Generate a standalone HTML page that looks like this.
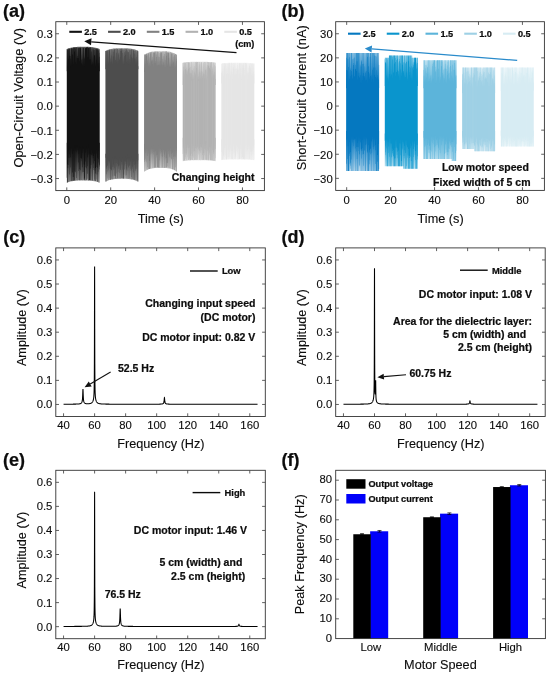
<!DOCTYPE html>
<html><head><meta charset="utf-8"><title>Figure</title>
<style>html,body{margin:0;padding:0;background:#fff}svg{display:block}text{white-space:pre}</style>
</head><body>
<svg width="550" height="677" viewBox="0 0 550 677" font-family="Liberation Sans, Arial, sans-serif" fill="#0d0d0d">
<defs><linearGradient id="ga0t" gradientUnits="userSpaceOnUse" x1="0" x2="0" y1="46.79" y2="67.30"><stop offset="0" stop-color="#121212" stop-opacity="0.6"/><stop offset="1" stop-color="#121212" stop-opacity="1"/></linearGradient><linearGradient id="ga0b" gradientUnits="userSpaceOnUse" x1="0" x2="0" y1="182.88" y2="146.69"><stop offset="0" stop-color="#121212" stop-opacity="0.4"/><stop offset="1" stop-color="#121212" stop-opacity="1"/></linearGradient></defs>
<path d="M66.78 71.30V48.97L68.15 48.47L69.52 48.05L70.90 47.71L72.27 47.44L73.64 47.22L75.01 47.07L76.39 46.95L77.76 46.87L79.13 46.83L80.50 46.80L81.87 46.79L83.25 46.79L84.62 46.79L85.99 46.80L87.36 46.83L88.74 46.87L90.11 46.95L91.48 47.07L92.85 47.22L94.23 47.44L95.60 47.71L96.97 48.05L98.34 48.47L99.72 48.97V71.30Z" fill="url(#ga0t)"/>
<path d="M66.78 142.69V182.88L68.15 182.32L69.52 181.86L70.90 181.48L72.27 181.18L73.64 180.94L75.01 180.77L76.39 180.64L77.76 180.56L79.13 180.50L80.50 180.48L81.87 180.47L83.25 180.47L84.62 180.47L85.99 180.48L87.36 180.50L88.74 180.56L90.11 180.64L91.48 180.77L92.85 180.94L94.23 181.18L95.60 181.48L96.97 181.86L98.34 182.32L99.72 182.88V142.69Z" fill="url(#ga0b)"/>
<path d="M66.78 49.14V49.14H67.00V49.37H67.22V49.38H67.44V49.87H67.66V68.24H67.88V50.29H68.10V48.62H68.32V49.22H68.54V48.40H68.76V58.63H68.97V48.61H69.19V48.94H69.41V55.63H69.63V49.09H69.85V48.90H70.07V55.99H70.29V58.77H70.51V48.73H70.73V68.12H70.95V48.64H71.17V47.80H71.39V47.94H71.61V48.19H71.83V65.74H72.05V48.74H72.27V47.75H72.49V54.42H72.71V48.17H72.93V48.21H73.15V64.09H73.37V47.82H73.59V47.31H73.81V47.26H74.03V47.69H74.24V51.60H74.46V47.29H74.68V47.79H74.90V47.45H75.12V48.42H75.34V47.06H75.56V62.36H75.78V48.10H76.00V47.29H76.22V64.22H76.44V47.69H76.66V47.33H76.88V57.69H77.10V56.05H77.32V47.19H77.54V58.27H77.76V47.83H77.98V58.22H78.20V48.01H78.42V48.22H78.64V47.06H78.86V48.03H79.08V47.62H79.29V61.35H79.51V48.08H79.73V47.24H79.95V47.42H80.17V47.47H80.39V48.13H80.61V46.83H80.83V47.96H81.05V59.63H81.27V63.68H81.49V47.20H81.71V63.26H81.93V58.68H82.15V47.57H82.37V65.25H82.59V66.37H82.81V47.43H83.03V47.76H83.25V47.83H83.47V66.77H83.69V47.50H83.91V47.42H84.13V47.26H84.35V57.44H84.56V58.81H84.78V66.84H85.00V47.92H85.22V48.12H85.44V48.13H85.66V46.88H85.88V48.16H86.10V48.05H86.32V47.30H86.54V47.00H86.76V47.05H86.98V47.26H87.20V47.08H87.42V46.85H87.64V47.53H87.86V57.33H88.08V47.59H88.30V48.07H88.52V47.37H88.74V47.95H88.96V48.11H89.18V47.25H89.40V47.56H89.62V59.58H89.83V47.46H90.05V47.68H90.27V47.35H90.49V47.02H90.71V59.33H90.93V65.52H91.15V51.53H91.37V48.27H91.59V64.45H91.81V48.32H92.03V65.87H92.25V47.21H92.47V48.40H92.69V62.29H92.91V63.51H93.13V49.61H93.35V47.70H93.57V67.46H93.79V48.37H94.01V50.07H94.23V55.38H94.45V47.89H94.67V55.18H94.89V47.75H95.10V67.08H95.32V67.66H95.54V49.09H95.76V48.53H95.98V59.77H96.20V49.18H96.42V48.65H96.64V48.49H96.86V49.14H97.08V63.76H97.30V48.74H97.52V48.86H97.74V49.52H97.96V48.76H98.18V49.83H98.40V67.60H98.62V50.45H98.84V63.11H99.06V52.70H99.28V49.91H99.50V56.77H99.72V164.82H99.50V169.55H99.28V166.40H99.06V182.52H98.84V162.56H98.62V159.30H98.40V151.35H98.18V171.82H97.96V181.47H97.74V182.04H97.52V157.66H97.30V167.63H97.08V174.48H96.86V150.03H96.64V166.99H96.42V179.41H96.20V153.81H95.98V173.60H95.76V181.08H95.54V167.94H95.32V181.06H95.10V170.55H94.89V160.92H94.67V153.78H94.45V179.85H94.23V180.98H94.01V155.92H93.79V163.47H93.57V170.01H93.35V168.12H93.13V158.32H92.91V180.44H92.69V155.38H92.47V180.61H92.25V153.35H92.03V149.45H91.81V180.41H91.59V155.26H91.37V154.75H91.15V165.10H90.93V154.27H90.71V168.55H90.49V180.37H90.27V180.28H90.05V180.35H89.83V179.91H89.62V179.90H89.40V180.25H89.18V153.75H88.96V180.44H88.74V180.46H88.52V154.76H88.30V144.82H88.08V148.92H87.86V173.78H87.64V157.36H87.42V178.71H87.20V166.20H86.98V180.35H86.76V168.14H86.54V146.30H86.32V179.86H86.10V149.82H85.88V161.41H85.66V152.76H85.44V167.35H85.22V180.38H85.00V180.28H84.78V179.75H84.56V180.23H84.35V178.58H84.13V164.38H83.91V148.92H83.69V179.78H83.47V172.05H83.25V147.11H83.03V180.29H82.81V172.31H82.59V167.30H82.37V145.87H82.15V152.99H81.93V160.81H81.71V158.70H81.49V180.06H81.27V158.36H81.05V180.13H80.83V170.34H80.61V157.94H80.39V146.92H80.17V179.82H79.95V180.06H79.73V169.22H79.51V146.12H79.29V180.49H79.08V154.09H78.86V149.71H78.64V170.94H78.42V162.47H78.20V179.97H77.98V150.44H77.76V149.96H77.54V147.12H77.32V180.42H77.10V144.73H76.88V180.11H76.66V178.09H76.44V151.77H76.22V144.88H76.00V150.67H75.78V180.44H75.56V145.11H75.34V172.17H75.12V171.55H74.90V180.72H74.68V144.81H74.46V180.59H74.24V180.24H74.03V180.80H73.81V180.82H73.59V180.51H73.37V150.45H73.15V176.99H72.93V153.66H72.71V180.82H72.49V180.81H72.27V172.44H72.05V180.95H71.83V148.31H71.61V148.70H71.39V180.84H71.17V181.11H70.95V167.40H70.73V181.05H70.51V146.93H70.29V157.17H70.07V157.90H69.85V181.44H69.63V174.57H69.41V149.18H69.19V154.33H68.97V157.85H68.76V182.00H68.54V164.97H68.32V151.23H68.10V168.10H67.88V164.38H67.66V182.39H67.44V182.58H67.22V182.37H67.00V177.78H66.78Z" fill="#121212" stroke="none"/>
<defs><linearGradient id="ga1t" gradientUnits="userSpaceOnUse" x1="0" x2="0" y1="48.24" y2="65.13"><stop offset="0" stop-color="#4d4d4d" stop-opacity="0.6"/><stop offset="1" stop-color="#4d4d4d" stop-opacity="1"/></linearGradient><linearGradient id="ga1b" gradientUnits="userSpaceOnUse" x1="0" x2="0" y1="181.91" y2="157.79"><stop offset="0" stop-color="#4d4d4d" stop-opacity="0.45"/><stop offset="1" stop-color="#4d4d4d" stop-opacity="1"/></linearGradient></defs>
<path d="M105.42 69.13V50.90L106.80 50.29L108.17 49.78L109.54 49.36L110.91 49.03L112.29 48.77L113.66 48.57L115.03 48.43L116.40 48.34L117.78 48.28L119.15 48.25L120.52 48.24L121.89 48.24L123.27 48.24L124.64 48.25L126.01 48.28L127.38 48.34L128.76 48.43L130.13 48.57L131.50 48.77L132.87 49.03L134.24 49.36L135.62 49.78L136.99 50.29L138.36 50.90V69.13Z" fill="url(#ga1t)"/>
<path d="M105.42 153.79V181.91L106.80 181.19L108.17 180.59L109.54 180.10L110.91 179.71L112.29 179.40L113.66 179.17L115.03 179.00L116.40 178.89L117.78 178.83L119.15 178.79L120.52 178.78L121.89 178.78L123.27 178.78L124.64 178.79L126.01 178.83L127.38 178.89L128.76 179.00L130.13 179.17L131.50 179.40L132.87 179.71L134.24 180.10L135.62 180.59L136.99 181.19L138.36 181.91V153.79Z" fill="url(#ga1b)"/>
<path d="M105.42 51.08V51.08H105.64V51.06H105.86V50.84H106.08V50.67H106.30V65.79H106.52V51.11H106.74V50.67H106.96V51.09H107.18V50.45H107.40V64.82H107.62V50.96H107.84V49.87H108.06V64.68H108.28V49.93H108.50V62.65H108.72V50.37H108.94V50.83H109.16V49.80H109.38V49.48H109.60V49.64H109.82V49.93H110.04V58.52H110.26V61.92H110.48V50.08H110.69V64.92H110.91V49.61H111.13V62.22H111.35V55.56H111.57V49.97H111.79V49.11H112.01V64.99H112.23V50.17H112.45V49.29H112.67V65.55H112.89V50.01H113.11V56.40H113.33V48.60H113.55V51.75H113.77V49.74H113.99V49.21H114.21V49.03H114.43V49.65H114.65V48.55H114.87V63.94H115.09V59.90H115.31V48.80H115.53V60.12H115.75V49.06H115.96V48.72H116.18V52.69H116.40V62.08H116.62V48.85H116.84V49.40H117.06V49.10H117.28V65.02H117.50V49.01H117.72V48.88H117.94V63.06H118.16V54.61H118.38V52.91H118.60V49.54H118.82V49.69H119.04V60.27H119.26V49.44H119.48V48.67H119.70V59.22H119.92V57.15H120.14V51.04H120.36V48.78H120.58V49.11H120.80V48.72H121.01V48.54H121.23V48.39H121.45V50.73H121.67V48.65H121.89V49.06H122.11V65.09H122.33V52.97H122.55V49.43H122.77V48.48H122.99V63.90H123.21V48.97H123.43V49.58H123.65V64.69H123.87V64.81H124.09V56.17H124.31V52.16H124.53V49.48H124.75V48.84H124.97V48.62H125.19V49.08H125.41V51.32H125.63V54.83H125.85V49.24H126.07V49.18H126.28V62.14H126.50V48.46H126.72V48.95H126.94V50.61H127.16V48.41H127.38V51.77H127.60V62.70H127.82V49.76H128.04V64.33H128.26V52.28H128.48V52.00H128.70V48.82H128.92V48.72H129.14V63.94H129.36V49.27H129.58V59.07H129.80V49.98H130.02V54.41H130.24V49.71H130.46V50.12H130.68V65.33H130.90V48.69H131.12V57.36H131.34V49.09H131.55V49.31H131.77V49.68H131.99V58.18H132.21V49.13H132.43V62.84H132.65V49.94H132.87V57.87H133.09V50.41H133.31V49.50H133.53V50.00H133.75V50.14H133.97V53.50H134.19V50.66H134.41V50.66H134.63V58.46H134.85V49.62H135.07V64.40H135.29V58.40H135.51V50.71H135.73V50.45H135.95V66.07H136.17V56.94H136.39V62.68H136.61V51.39H136.82V51.31H137.04V51.25H137.26V50.48H137.48V50.75H137.70V62.37H137.92V51.59H138.14V66.25H138.36V181.22H138.14V160.35H137.92V161.52H137.70V181.46H137.48V180.71H137.26V180.61H137.04V169.27H136.82V159.06H136.61V157.14H136.39V180.21H136.17V168.44H135.95V180.51H135.73V170.95H135.51V164.15H135.29V169.52H135.07V179.80H134.85V180.19H134.63V164.94H134.41V160.38H134.19V179.83H133.97V161.49H133.75V172.43H133.53V179.29H133.31V179.41H133.09V159.70H132.87V166.82H132.65V168.77H132.43V179.11H132.21V178.85H131.99V170.18H131.77V179.17H131.55V176.93H131.34V156.76H131.12V179.20H130.90V160.40H130.68V168.64H130.46V170.67H130.24V161.82H130.02V165.33H129.80V156.72H129.58V166.02H129.36V178.49H129.14V178.35H128.92V166.85H128.70V156.04H128.48V167.85H128.26V178.70H128.04V170.74H127.82V178.20H127.60V154.83H127.38V165.43H127.16V158.12H126.94V175.32H126.72V178.54H126.50V170.23H126.28V168.71H126.07V164.11H125.85V161.37H125.63V161.95H125.41V175.41H125.19V156.19H124.97V165.22H124.75V170.08H124.53V169.01H124.31V160.67H124.09V174.62H123.87V178.69H123.65V178.43H123.43V178.57H123.21V178.33H122.99V178.38H122.77V156.39H122.55V178.12H122.33V169.67H122.11V164.51H121.89V178.09H121.67V178.27H121.45V161.92H121.23V161.96H121.01V170.01H120.80V169.50H120.58V178.63H120.36V160.67H120.14V178.22H119.92V165.45H119.70V178.65H119.48V155.92H119.26V172.65H119.04V168.77H118.82V166.48H118.60V178.63H118.38V165.46H118.16V172.02H117.94V159.78H117.72V163.95H117.50V178.78H117.28V178.14H117.06V178.81H116.84V173.61H116.62V166.53H116.40V158.78H116.18V163.12H115.96V155.48H115.75V176.36H115.53V178.42H115.31V178.47H115.09V178.81H114.87V168.35H114.65V175.52H114.43V176.12H114.21V156.17H113.99V164.55H113.77V169.78H113.55V178.95H113.33V166.79H113.11V176.22H112.89V166.92H112.67V156.95H112.45V179.35H112.23V179.15H112.01V179.18H111.79V178.84H111.57V169.56H111.35V170.30H111.13V170.55H110.91V179.71H110.69V169.11H110.48V179.84H110.26V179.74H110.04V161.44H109.82V178.48H109.60V162.66H109.38V160.73H109.16V168.46H108.94V179.78H108.72V159.88H108.50V161.33H108.28V170.13H108.06V157.63H107.84V165.37H107.62V178.44H107.40V166.10H107.18V171.44H106.96V174.21H106.74V168.68H106.52V167.19H106.30V181.31H106.08V181.54H105.86V157.65H105.64V181.20H105.42Z" fill="#4d4d4d" stroke="none"/>
<defs><linearGradient id="ga2t" gradientUnits="userSpaceOnUse" x1="0" x2="0" y1="51.14" y2="68.03"><stop offset="0" stop-color="#818181" stop-opacity="0.45"/><stop offset="1" stop-color="#818181" stop-opacity="1"/></linearGradient><linearGradient id="ga2b" gradientUnits="userSpaceOnUse" x1="0" x2="0" y1="171.78" y2="147.65"><stop offset="0" stop-color="#818181" stop-opacity="0.35"/><stop offset="1" stop-color="#818181" stop-opacity="1"/></linearGradient></defs>
<path d="M144.07 72.03V54.76L145.44 53.92L146.82 53.23L148.19 52.66L149.56 52.21L150.93 51.86L152.30 51.59L153.68 51.40L155.05 51.27L156.42 51.19L157.79 51.15L159.17 51.14L160.54 51.14L161.91 51.14L163.28 51.15L164.66 51.19L166.03 51.27L167.40 51.40L168.77 51.59L170.15 51.86L171.52 52.21L172.89 52.66L174.26 53.23L175.64 53.92L177.01 54.76V72.03Z" fill="url(#ga2t)"/>
<path d="M144.07 143.65V171.78L145.44 170.89L146.82 170.15L148.19 169.55L149.56 169.06L150.93 168.69L152.30 168.40L153.68 168.20L155.05 168.06L156.42 167.98L157.79 167.94L159.17 167.92L160.54 167.92L161.91 167.92L163.28 167.94L164.66 167.98L166.03 168.06L167.40 168.20L168.77 168.40L170.15 168.69L171.52 169.06L172.89 169.55L174.26 170.15L175.64 170.89L177.01 171.78V143.65Z" fill="url(#ga2b)"/>
<path d="M144.07 70.82V70.82H144.29V54.59H144.51V68.89H144.73V54.41H144.95V54.76H145.17V55.05H145.39V63.65H145.61V54.37H145.83V54.68H146.05V56.03H146.27V53.73H146.49V54.04H146.71V53.95H146.93V54.50H147.14V62.71H147.36V54.08H147.58V60.24H147.80V55.14H148.02V53.07H148.24V53.88H148.46V66.01H148.68V52.92H148.90V65.68H149.12V63.22H149.34V57.60H149.56V66.92H149.78V52.59H150.00V52.33H150.22V53.39H150.44V66.00H150.66V52.82H150.88V51.89H151.10V61.50H151.32V52.62H151.54V60.31H151.76V52.00H151.98V64.32H152.20V60.57H152.41V52.16H152.63V57.09H152.85V59.76H153.07V52.41H153.29V67.98H153.51V52.54H153.73V52.21H153.95V63.16H154.17V52.71H154.39V52.42H154.61V51.38H154.83V51.89H155.05V51.65H155.27V61.37H155.49V51.54H155.71V62.96H155.93V52.61H156.15V65.56H156.37V54.39H156.59V57.06H156.81V51.44H157.03V51.52H157.25V52.09H157.47V66.05H157.68V65.06H157.90V51.74H158.12V56.72H158.34V52.27H158.56V65.15H158.78V65.00H159.00V65.81H159.22V64.44H159.44V56.97H159.66V52.88H159.88V60.81H160.10V52.35H160.32V65.84H160.54V53.27H160.76V52.02H160.98V52.56H161.20V52.26H161.42V52.39H161.64V64.85H161.86V51.94H162.08V59.32H162.30V67.69H162.52V51.60H162.73V65.05H162.95V61.55H163.17V51.43H163.39V65.13H163.61V62.79H163.83V56.06H164.05V53.88H164.27V66.90H164.49V65.13H164.71V51.81H164.93V67.20H165.15V51.39H165.37V60.10H165.59V67.29H165.81V51.41H166.03V51.30H166.25V52.70H166.47V51.34H166.69V55.76H166.91V66.26H167.13V64.21H167.35V52.80H167.57V52.37H167.79V52.52H168.00V53.26H168.22V52.50H168.44V52.49H168.66V52.73H168.88V57.94H169.10V66.18H169.32V66.28H169.54V53.04H169.76V67.27H169.98V52.22H170.20V67.24H170.42V67.02H170.64V66.23H170.86V52.18H171.08V53.20H171.30V64.55H171.52V53.33H171.74V53.48H171.96V67.86H172.18V63.51H172.40V53.54H172.62V53.35H172.84V60.37H173.06V56.59H173.27V53.61H173.49V62.43H173.71V61.57H173.93V69.53H174.15V53.49H174.37V68.45H174.59V55.32H174.81V54.94H175.03V69.96H175.25V54.01H175.47V53.95H175.69V69.60H175.91V66.98H176.13V54.48H176.35V60.83H176.57V55.01H176.79V58.75H177.01V171.60H176.79V171.46H176.57V150.97H176.35V148.02H176.13V147.21H175.91V167.14H175.69V170.61H175.47V146.73H175.25V156.83H175.03V170.08H174.81V156.51H174.59V146.91H174.37V170.12H174.15V170.02H173.93V149.36H173.71V159.05H173.49V169.03H173.27V156.92H173.06V169.11H172.84V169.45H172.62V152.28H172.40V169.18H172.18V152.91H171.96V159.10H171.74V153.96H171.52V159.66H171.30V158.87H171.08V147.84H170.86V145.98H170.64V157.69H170.42V168.12H170.20V151.15H169.98V157.30H169.76V149.35H169.54V156.61H169.32V168.04H169.10V167.74H168.88V147.54H168.66V154.07H168.44V167.75H168.22V150.98H168.00V167.64H167.79V162.94H167.57V166.56H167.35V145.04H167.13V162.68H166.91V167.57H166.69V157.80H166.47V167.46H166.25V167.58H166.03V158.53H165.81V152.59H165.59V167.74H165.37V150.69H165.15V167.59H164.93V167.68H164.71V157.27H164.49V154.70H164.27V167.93H164.05V152.85H163.83V150.25H163.61V149.97H163.39V150.02H163.17V167.72H162.95V167.41H162.73V167.50H162.52V146.95H162.30V156.88H162.08V156.37H161.86V167.61H161.64V152.49H161.42V149.72H161.20V152.29H160.98V144.80H160.76V149.53H160.54V153.61H160.32V150.83H160.10V145.83H159.88V160.36H159.66V167.82H159.44V145.53H159.22V167.42H159.00V145.36H158.78V167.28H158.56V167.82H158.34V167.83H158.12V167.24H157.90V167.34H157.68V167.34H157.47V154.82H157.25V167.61H157.03V167.44H156.81V157.38H156.59V155.02H156.37V156.40H156.15V149.56H155.93V150.93H155.71V167.46H155.49V167.46H155.27V167.52H155.05V148.62H154.83V167.80H154.61V167.40H154.39V167.64H154.17V151.82H153.95V148.41H153.73V151.92H153.51V167.84H153.29V154.58H153.07V145.19H152.85V153.28H152.63V148.67H152.41V167.95H152.20V149.30H151.98V146.13H151.76V148.24H151.54V148.42H151.32V153.41H151.10V147.71H150.88V168.58H150.66V154.14H150.44V168.56H150.22V148.94H150.00V160.90H149.78V168.92H149.56V168.88H149.34V168.83H149.12V168.93H148.90V168.71H148.68V150.83H148.46V169.15H148.24V153.63H148.02V167.01H147.80V155.94H147.58V148.95H147.36V169.48H147.14V169.89H146.93V169.55H146.71V149.21H146.49V146.57H146.27V162.15H146.05V160.97H145.83V150.06H145.61V152.78H145.39V158.79H145.17V170.94H144.95V161.94H144.73V159.99H144.51V150.26H144.29V171.55H144.07Z" fill="#818181" stroke="none"/>
<defs><linearGradient id="ga3t" gradientUnits="userSpaceOnUse" x1="0" x2="0" y1="61.75" y2="81.06"><stop offset="0" stop-color="#b2b2b2" stop-opacity="0.42"/><stop offset="1" stop-color="#b2b2b2" stop-opacity="1"/></linearGradient><linearGradient id="ga3b" gradientUnits="userSpaceOnUse" x1="0" x2="0" y1="161.16" y2="141.86"><stop offset="0" stop-color="#b2b2b2" stop-opacity="0.42"/><stop offset="1" stop-color="#b2b2b2" stop-opacity="1"/></linearGradient></defs>
<path d="M182.72 85.06V62.48L184.09 62.31L185.46 62.17L186.83 62.06L188.21 61.97L189.58 61.90L190.95 61.84L192.32 61.81L193.70 61.78L195.07 61.76L196.44 61.76L197.81 61.75L199.19 61.75L200.56 61.75L201.93 61.76L203.30 61.76L204.67 61.78L206.05 61.81L207.42 61.84L208.79 61.90L210.16 61.97L211.54 62.06L212.91 62.17L214.28 62.31L215.65 62.48V85.06Z" fill="url(#ga3t)"/>
<path d="M182.72 137.86V161.16L184.09 160.94L185.46 160.76L186.83 160.61L188.21 160.48L189.58 160.39L190.95 160.32L192.32 160.27L193.70 160.23L195.07 160.21L196.44 160.20L197.81 160.20L199.19 160.20L200.56 160.20L201.93 160.20L203.30 160.21L204.67 160.23L206.05 160.27L207.42 160.32L208.79 160.39L210.16 160.48L211.54 160.61L212.91 160.76L214.28 160.94L215.65 161.16V137.86Z" fill="url(#ga3b)"/>
<path d="M182.72 63.05V63.05H182.94V63.11H183.16V79.97H183.38V63.05H183.59V70.49H183.81V66.40H184.03V74.33H184.25V62.58H184.47V70.30H184.69V62.89H184.91V62.86H185.13V69.29H185.35V62.89H185.57V62.36H185.79V69.37H186.01V70.28H186.23V73.65H186.45V67.79H186.67V62.62H186.89V62.11H187.11V62.18H187.33V74.55H187.55V71.43H187.77V70.04H187.99V62.66H188.21V68.66H188.43V62.07H188.65V62.31H188.86V62.44H189.08V62.43H189.30V62.54H189.52V73.52H189.74V67.71H189.96V62.47H190.18V67.09H190.40V73.35H190.62V76.65H190.84V72.94H191.06V61.94H191.28V62.24H191.50V80.16H191.72V73.36H191.94V69.93H192.16V62.52H192.38V78.71H192.60V80.08H192.82V70.40H193.04V62.15H193.26V77.55H193.48V79.28H193.70V68.47H193.92V79.90H194.13V71.67H194.35V62.24H194.57V73.10H194.79V65.96H195.01V62.06H195.23V62.16H195.45V75.44H195.67V73.69H195.89V61.93H196.11V62.18H196.33V67.89H196.55V62.47H196.77V61.80H196.99V62.04H197.21V61.92H197.43V62.00H197.65V78.70H197.87V76.98H198.09V76.41H198.31V62.00H198.53V80.48H198.75V79.07H198.97V72.09H199.19V62.16H199.40V78.70H199.62V61.97H199.84V64.51H200.06V78.51H200.28V62.41H200.50V72.79H200.72V81.03H200.94V70.83H201.16V62.44H201.38V62.03H201.60V79.18H201.82V62.21H202.04V78.16H202.26V78.32H202.48V76.10H202.70V71.42H202.92V72.94H203.14V74.65H203.36V63.30H203.58V62.27H203.80V74.36H204.02V73.79H204.24V81.03H204.45V61.89H204.67V61.91H204.89V78.04H205.11V69.60H205.33V61.99H205.55V70.11H205.77V62.45H205.99V62.26H206.21V78.84H206.43V69.26H206.65V80.35H206.87V67.61H207.09V77.87H207.31V61.98H207.53V65.27H207.75V61.91H207.97V62.04H208.19V61.90H208.41V62.40H208.63V65.62H208.85V66.34H209.07V62.61H209.29V67.83H209.51V68.52H209.72V62.13H209.94V65.57H210.16V62.53H210.38V69.57H210.60V62.62H210.82V62.42H211.04V62.08H211.26V62.57H211.48V77.80H211.70V62.28H211.92V70.46H212.14V68.45H212.36V67.07H212.58V76.87H212.80V62.32H213.02V62.42H213.24V74.53H213.46V62.73H213.68V78.02H213.90V75.23H214.12V62.88H214.34V65.04H214.56V78.96H214.78V72.10H214.99V79.04H215.21V62.94H215.43V66.18H215.65V158.19H215.43V160.74H215.21V149.07H214.99V145.56H214.78V160.93H214.56V149.93H214.34V160.27H214.12V160.72H213.90V160.84H213.68V160.84H213.46V152.32H213.24V153.89H213.02V160.48H212.80V160.70H212.58V160.04H212.36V150.36H212.14V160.18H211.92V160.14H211.70V142.96H211.48V160.30H211.26V160.40H211.04V160.19H210.82V160.05H210.60V160.45H210.38V160.02H210.16V147.10H209.94V152.84H209.72V146.41H209.51V154.73H209.29V159.73H209.07V159.88H208.85V159.78H208.63V160.18H208.41V150.23H208.19V160.14H207.97V159.74H207.75V149.43H207.53V151.12H207.31V160.18H207.09V159.67H206.87V160.01H206.65V141.45H206.43V159.63H206.21V160.24H205.99V141.43H205.77V159.98H205.55V159.60H205.33V149.90H205.11V160.23H204.89V143.06H204.67V155.19H204.45V148.90H204.24V159.76H204.02V152.95H203.80V160.00H203.58V159.64H203.36V159.49H203.14V160.08H202.92V160.00H202.70V141.02H202.48V155.06H202.26V159.97H202.04V150.04H201.82V147.67H201.60V159.79H201.38V147.08H201.16V159.77H200.94V147.20H200.72V143.65H200.50V160.16H200.28V152.75H200.06V150.38H199.84V159.78H199.62V148.34H199.40V159.96H199.19V150.96H198.97V149.40H198.75V148.76H198.53V146.19H198.31V154.59H198.09V147.85H197.87V147.19H197.65V159.71H197.43V144.10H197.21V159.67H196.99V148.41H196.77V159.64H196.55V147.60H196.33V159.95H196.11V159.83H195.89V147.95H195.67V159.69H195.45V145.86H195.23V160.04H195.01V160.12H194.79V159.88H194.57V159.79H194.35V151.09H194.13V151.81H193.92V151.37H193.70V157.68H193.48V145.57H193.26V160.14H193.04V156.36H192.82V159.95H192.60V159.89H192.38V142.00H192.16V160.03H191.94V159.60H191.72V159.99H191.50V153.77H191.28V142.66H191.06V160.23H190.84V160.24H190.62V155.41H190.40V159.92H190.18V160.29H189.96V160.30H189.74V158.50H189.52V147.74H189.30V159.87H189.08V142.73H188.86V160.07H188.65V160.03H188.43V159.87H188.21V148.12H187.99V142.82H187.77V157.13H187.55V160.50H187.33V144.88H187.11V147.92H186.89V153.33H186.67V154.75H186.45V160.34H186.23V160.68H186.01V159.09H185.79V157.25H185.57V142.33H185.35V160.64H185.13V153.22H184.91V160.13H184.69V160.52H184.47V160.71H184.25V160.30H184.03V160.92H183.81V148.61H183.59V146.43H183.38V160.75H183.16V160.43H182.94V153.90H182.72Z" fill="#b2b2b2" stroke="none"/>
<path d="M184.58 70.30V160.52M191.61 80.16V159.99M193.81 68.47V151.37M194.02 79.90V151.81M194.68 73.10V159.88M196.66 62.47V159.64M198.64 80.48V148.76M203.25 74.65V159.49M205.88 62.45V141.43M206.98 67.61V159.67M207.20 77.87V160.18M208.08 62.04V160.14M212.47 67.07V160.04M214.67 78.96V160.93" stroke="#fff" stroke-opacity="0.15" stroke-width="0.33" fill="none"/>
<defs><linearGradient id="ga4t" gradientUnits="userSpaceOnUse" x1="0" x2="0" y1="62.72" y2="79.61"><stop offset="0" stop-color="#e5e5e5" stop-opacity="0.42"/><stop offset="1" stop-color="#e5e5e5" stop-opacity="1"/></linearGradient><linearGradient id="ga4b" gradientUnits="userSpaceOnUse" x1="0" x2="0" y1="160.20" y2="143.31"><stop offset="0" stop-color="#e5e5e5" stop-opacity="0.42"/><stop offset="1" stop-color="#e5e5e5" stop-opacity="1"/></linearGradient></defs>
<path d="M221.36 83.61V63.44L222.73 63.28L224.11 63.14L225.48 63.02L226.85 62.93L228.22 62.86L229.60 62.81L230.97 62.77L232.34 62.75L233.71 62.73L235.09 62.72L236.46 62.72L237.83 62.72L239.20 62.72L240.58 62.72L241.95 62.73L243.32 62.75L244.69 62.77L246.07 62.81L247.44 62.86L248.81 62.93L250.18 63.02L251.55 63.14L252.93 63.28L254.30 63.44V83.61Z" fill="url(#ga4t)"/>
<path d="M221.36 139.31V160.20L222.73 160.03L224.11 159.89L225.48 159.78L226.85 159.69L228.22 159.62L229.60 159.56L230.97 159.53L232.34 159.50L233.71 159.49L235.09 159.48L236.46 159.47L237.83 159.47L239.20 159.47L240.58 159.48L241.95 159.49L243.32 159.50L244.69 159.53L246.07 159.56L247.44 159.62L248.81 159.69L250.18 159.78L251.55 159.89L252.93 160.03L254.30 160.20V139.31Z" fill="url(#ga4b)"/>
<path d="M221.36 72.83V72.83H221.58V64.04H221.80V72.25H222.02V63.77H222.24V71.38H222.46V73.74H222.68V63.34H222.90V73.78H223.12V63.59H223.34V63.25H223.56V76.09H223.78V76.17H224.00V63.26H224.22V66.56H224.44V63.37H224.66V63.30H224.88V74.60H225.10V78.16H225.31V63.58H225.53V63.28H225.75V64.37H225.97V77.15H226.19V68.62H226.41V73.90H226.63V63.52H226.85V63.42H227.07V73.21H227.29V63.45H227.51V78.04H227.73V63.47H227.95V66.74H228.17V74.25H228.39V63.50H228.61V63.10H228.83V63.09H229.05V62.84H229.27V62.92H229.49V63.17H229.71V79.11H229.93V76.51H230.15V74.53H230.37V77.93H230.58V63.33H230.80V70.07H231.02V63.01H231.24V70.34H231.46V62.86H231.68V71.60H231.90V62.80H232.12V73.24H232.34V73.72H232.56V79.46H232.78V63.37H233.00V68.76H233.22V62.93H233.44V62.88H233.66V67.33H233.88V64.95H234.10V62.83H234.32V74.54H234.54V63.27H234.76V69.81H234.98V63.18H235.20V68.42H235.42V73.40H235.64V75.77H235.85V62.82H236.07V71.21H236.29V74.79H236.51V68.43H236.73V69.32H236.95V68.79H237.17V62.73H237.39V70.22H237.61V65.18H237.83V63.08H238.05V70.27H238.27V78.54H238.49V68.16H238.71V69.91H238.93V63.37H239.15V63.19H239.37V63.13H239.59V74.35H239.81V63.03H240.03V74.58H240.25V63.13H240.47V68.60H240.69V62.96H240.91V63.22H241.12V78.01H241.34V63.29H241.56V79.55H241.78V63.43H242.00V63.26H242.22V65.20H242.44V78.01H242.66V63.31H242.88V67.98H243.10V63.46H243.32V63.10H243.54V63.25H243.76V65.69H243.98V70.04H244.20V75.91H244.42V62.82H244.64V63.18H244.86V74.79H245.08V79.43H245.30V63.02H245.52V63.07H245.74V63.06H245.96V63.25H246.17V62.90H246.39V64.35H246.61V73.29H246.83V63.38H247.05V79.67H247.27V70.63H247.49V74.29H247.71V73.24H247.93V63.55H248.15V72.24H248.37V73.06H248.59V68.29H248.81V74.77H249.03V64.32H249.25V66.13H249.47V63.24H249.69V65.41H249.91V71.92H250.13V66.73H250.35V68.39H250.57V63.07H250.79V63.21H251.01V63.27H251.23V78.07H251.44V74.63H251.66V63.42H251.88V63.65H252.10V63.62H252.32V76.09H252.54V63.30H252.76V72.92H252.98V63.72H253.20V71.68H253.42V63.70H253.64V76.65H253.86V73.93H254.08V63.59H254.30V159.59H254.08V145.72H253.86V160.10H253.64V145.06H253.42V144.32H253.20V149.42H252.98V145.73H252.76V150.56H252.54V159.50H252.32V153.69H252.10V150.90H251.88V151.79H251.66V159.86H251.44V159.57H251.23V155.84H251.01V152.06H250.79V159.40H250.57V159.55H250.35V150.53H250.13V145.01H249.91V159.03H249.69V148.31H249.47V159.54H249.25V159.11H249.03V143.90H248.81V159.09H248.59V148.16H248.37V159.56H248.15V145.76H247.93V159.19H247.71V151.07H247.49V149.96H247.27V159.15H247.05V148.32H246.83V158.88H246.61V150.98H246.39V144.98H246.17V159.39H245.96V143.43H245.74V159.45H245.52V158.84H245.30V145.70H245.08V147.75H244.86V159.52H244.64V159.15H244.42V159.39H244.20V158.81H243.98V159.15H243.76V158.97H243.54V159.19H243.32V158.86H243.10V159.42H242.88V157.12H242.66V157.31H242.44V158.82H242.22V159.36H242.00V158.83H241.78V159.47H241.56V153.40H241.34V158.84H241.12V148.98H240.91V143.72H240.69V144.45H240.47V158.85H240.25V158.76H240.03V159.33H239.81V159.29H239.59V158.81H239.37V158.85H239.15V158.94H238.93V148.87H238.71V148.35H238.49V159.45H238.27V159.35H238.05V153.40H237.83V159.38H237.61V152.51H237.39V146.37H237.17V143.19H236.95V142.81H236.73V145.11H236.51V150.78H236.29V147.19H236.07V155.50H235.85V159.41H235.64V156.48H235.42V158.20H235.20V159.12H234.98V159.18H234.76V149.65H234.54V152.82H234.32V159.09H234.10V143.89H233.88V142.97H233.66V144.01H233.44V152.71H233.22V159.47H233.00V159.14H232.78V158.94H232.56V159.37H232.34V150.65H232.12V159.28H231.90V151.27H231.68V158.88H231.46V159.35H231.24V158.81H231.02V149.69H230.80V148.27H230.58V146.12H230.37V159.34H230.15V145.06H229.93V157.33H229.71V159.15H229.49V151.83H229.27V142.83H229.05V159.17H228.83V147.45H228.61V157.03H228.39V159.38H228.17V149.98H227.95V150.00H227.73V157.37H227.51V159.55H227.29V144.81H227.07V159.58H226.85V159.29H226.63V159.69H226.41V159.40H226.19V159.07H225.97V155.52H225.75V143.41H225.53V144.73H225.31V159.26H225.10V147.85H224.88V149.71H224.66V159.42H224.44V156.83H224.22V147.93H224.00V159.31H223.78V155.33H223.56V159.33H223.34V156.26H223.12V159.59H222.90V152.65H222.68V159.43H222.46V159.94H222.24V159.72H222.02V159.65H221.80V160.02H221.58V151.99H221.36Z" fill="#e5e5e5" stroke="none"/>
<path d="M221.69 64.04V160.02M222.35 71.38V159.94M223.23 63.59V156.26M225.42 63.58V144.73M227.62 78.04V157.37M229.16 62.84V142.83M231.57 62.86V158.88M235.09 63.18V159.12M235.74 75.77V159.41M236.18 71.21V147.19M239.70 74.35V159.29M241.67 79.55V159.47M242.11 63.26V159.36M245.41 63.02V158.84M246.50 64.35V150.98M250.24 66.73V150.53M251.34 78.07V159.57M252.87 72.92V145.73M254.19 63.59V159.59" stroke="#fff" stroke-opacity="0.15" stroke-width="0.33" fill="none"/>
<rect x="55.80" y="21.70" width="208.60" height="168.90" fill="none" stroke="#333" stroke-width="0.9"/>
<path d="M66.78 190.60v-3.2M66.78 21.70v3.2M110.69 190.60v-3.2M110.69 21.70v3.2M154.61 190.60v-3.2M154.61 21.70v3.2M198.53 190.60v-3.2M198.53 21.70v3.2M242.44 190.60v-3.2M242.44 21.70v3.2" stroke="#444" stroke-width="0.85" fill="none"/>
<path d="M55.80 33.76h3.2M264.40 33.76h-3.2M55.80 57.89h3.2M264.40 57.89h-3.2M55.80 82.02h3.2M264.40 82.02h-3.2M55.80 106.15h3.2M264.40 106.15h-3.2M55.80 130.28h3.2M264.40 130.28h-3.2M55.80 154.41h3.2M264.40 154.41h-3.2M55.80 178.54h3.2M264.40 178.54h-3.2" stroke="#444" stroke-width="0.85" fill="none"/>
<text x="66.78" y="203.90" font-size="11.3" text-anchor="middle" stroke="#0d0d0d" stroke-width="0.12">0</text>
<text x="110.69" y="203.90" font-size="11.3" text-anchor="middle" stroke="#0d0d0d" stroke-width="0.12">20</text>
<text x="154.61" y="203.90" font-size="11.3" text-anchor="middle" stroke="#0d0d0d" stroke-width="0.12">40</text>
<text x="198.53" y="203.90" font-size="11.3" text-anchor="middle" stroke="#0d0d0d" stroke-width="0.12">60</text>
<text x="242.44" y="203.90" font-size="11.3" text-anchor="middle" stroke="#0d0d0d" stroke-width="0.12">80</text>
<text x="52.80" y="38.06" font-size="11.3" text-anchor="end" stroke="#0d0d0d" stroke-width="0.12">0.3</text>
<text x="52.80" y="62.19" font-size="11.3" text-anchor="end" stroke="#0d0d0d" stroke-width="0.12">0.2</text>
<text x="52.80" y="86.32" font-size="11.3" text-anchor="end" stroke="#0d0d0d" stroke-width="0.12">0.1</text>
<text x="52.80" y="110.45" font-size="11.3" text-anchor="end" stroke="#0d0d0d" stroke-width="0.12">0.0</text>
<text x="52.80" y="134.58" font-size="11.3" text-anchor="end" stroke="#0d0d0d" stroke-width="0.12">−0.1</text>
<text x="52.80" y="158.71" font-size="11.3" text-anchor="end" stroke="#0d0d0d" stroke-width="0.12">−0.2</text>
<text x="52.80" y="182.84" font-size="11.3" text-anchor="end" stroke="#0d0d0d" stroke-width="0.12">−0.3</text>
<text x="160.70" y="222.50" font-size="12.7" text-anchor="middle" stroke="#0d0d0d" stroke-width="0.12">Time (s)</text>
<text transform="translate(23.00 97.75) rotate(-90)" font-size="12.9" text-anchor="middle" stroke="#0d0d0d" stroke-width="0.12">Open-Circuit Voltage (V)</text>
<text x="3.10" y="16.50" font-size="18.0" text-anchor="start" font-weight="bold" stroke="#0d0d0d" stroke-width="0.22">(a)</text>
<line x1="69.30" y1="31.80" x2="81.90" y2="31.80" stroke="#121212" stroke-width="2.1"/>
<text x="84.20" y="35.10" font-size="9.2" text-anchor="start" font-weight="bold" stroke="#0d0d0d" stroke-width="0.22">2.5</text>
<line x1="108.05" y1="31.80" x2="120.65" y2="31.80" stroke="#4d4d4d" stroke-width="2.1"/>
<text x="122.95" y="35.10" font-size="9.2" text-anchor="start" font-weight="bold" stroke="#0d0d0d" stroke-width="0.22">2.0</text>
<line x1="146.80" y1="31.80" x2="159.40" y2="31.80" stroke="#818181" stroke-width="2.1"/>
<text x="161.70" y="35.10" font-size="9.2" text-anchor="start" font-weight="bold" stroke="#0d0d0d" stroke-width="0.22">1.5</text>
<line x1="185.55" y1="31.80" x2="198.15" y2="31.80" stroke="#b2b2b2" stroke-width="2.1"/>
<text x="200.45" y="35.10" font-size="9.2" text-anchor="start" font-weight="bold" stroke="#0d0d0d" stroke-width="0.22">1.0</text>
<line x1="224.30" y1="31.80" x2="236.90" y2="31.80" stroke="#e5e5e5" stroke-width="2.1"/>
<text x="239.20" y="35.10" font-size="9.2" text-anchor="start" font-weight="bold" stroke="#0d0d0d" stroke-width="0.22">0.5</text>
<text x="244.80" y="47.00" font-size="9.1" text-anchor="middle" font-weight="bold" stroke="#0d0d0d" stroke-width="0.22">(cm)</text>
<line x1="236.50" y1="52.70" x2="91.28" y2="41.82" stroke="#111" stroke-width="1.2"/>
<polygon points="84.30,41.30 91.54,38.33 91.02,45.31" fill="#111"/>
<text x="254.50" y="180.60" font-size="10.5" text-anchor="end" font-weight="bold" stroke="#0d0d0d" stroke-width="0.22">Changing height</text>
<defs><linearGradient id="gb0t" gradientUnits="userSpaceOnUse" x1="0" x2="0" y1="53.03" y2="84.36"><stop offset="0" stop-color="#0578c0" stop-opacity="0.36"/><stop offset="1" stop-color="#0578c0" stop-opacity="1"/></linearGradient><linearGradient id="gb0b" gradientUnits="userSpaceOnUse" x1="0" x2="0" y1="171.12" y2="134.97"><stop offset="0" stop-color="#0578c0" stop-opacity="0.27"/><stop offset="1" stop-color="#0578c0" stop-opacity="1"/></linearGradient></defs>
<path d="M346.13 88.36V53.03L347.51 53.03L348.88 53.03L350.25 53.03L351.63 53.03L353.00 53.03L354.37 53.03L355.75 53.03L357.12 53.03L358.49 53.03L359.87 53.03L361.24 53.03L362.61 53.03L363.98 53.03L365.36 53.03L366.73 53.03L368.10 53.03L369.48 53.03L370.85 53.03L372.22 53.03L373.60 53.03L374.97 53.03L376.34 53.03L377.71 53.03L379.09 53.03V88.36Z" fill="url(#gb0t)"/>
<path d="M346.13 130.97V171.12L347.51 171.12L348.88 171.12L350.25 171.12L351.63 171.12L353.00 171.12L354.37 171.12L355.75 171.12L357.12 171.12L358.49 171.12L359.87 171.12L361.24 171.12L362.61 171.12L363.98 171.12L365.36 171.12L366.73 171.12L368.10 171.12L369.48 171.12L370.85 171.12L372.22 171.12L373.60 171.12L374.97 171.12L376.34 171.12L377.71 171.12L379.09 171.12V130.97Z" fill="url(#gb0b)"/>
<path d="M346.13 53.03V53.03H346.35V53.03H346.57V57.82H346.79V69.90H347.01V53.03H347.23V53.03H347.45V53.03H347.67V70.45H347.89V58.66H348.11V53.03H348.33V67.08H348.55V53.03H348.77V81.59H348.99V79.00H349.21V53.03H349.43V53.03H349.65V57.36H349.87V78.82H350.09V53.03H350.31V76.36H350.53V69.92H350.75V68.44H350.97V53.03H351.19V53.03H351.41V53.03H351.63V70.95H351.85V74.85H352.07V78.89H352.29V53.03H352.51V59.34H352.73V77.79H352.95V69.14H353.16V64.96H353.38V58.62H353.60V53.03H353.82V62.92H354.04V76.86H354.26V76.12H354.48V57.48H354.70V53.03H354.92V53.03H355.14V68.64H355.36V53.03H355.58V64.74H355.80V69.34H356.02V53.03H356.24V53.03H356.46V53.03H356.68V71.02H356.90V61.31H357.12V53.08H357.34V79.48H357.56V53.03H357.78V53.03H358.00V53.03H358.22V53.03H358.44V75.95H358.66V53.03H358.88V72.66H359.10V77.36H359.32V53.03H359.54V53.03H359.76V77.85H359.98V64.71H360.19V75.19H360.41V83.43H360.63V53.03H360.85V66.47H361.07V60.34H361.29V53.03H361.51V83.41H361.73V61.58H361.95V53.03H362.17V63.92H362.39V80.21H362.61V53.03H362.83V75.79H363.05V53.03H363.27V63.69H363.49V72.91H363.71V53.03H363.93V75.99H364.15V53.03H364.37V76.37H364.59V77.72H364.81V66.55H365.03V71.63H365.25V53.03H365.47V80.59H365.69V73.12H365.91V80.24H366.13V71.04H366.35V79.79H366.57V53.03H366.79V53.03H367.00V53.03H367.22V83.73H367.44V56.86H367.66V53.03H367.88V53.03H368.10V53.03H368.32V66.25H368.54V53.03H368.76V72.08H368.98V53.03H369.20V77.24H369.42V73.54H369.64V79.35H369.86V56.82H370.08V76.11H370.30V53.03H370.52V53.03H370.74V53.03H370.96V76.62H371.18V82.34H371.40V53.03H371.62V74.68H371.84V53.03H372.06V53.03H372.28V69.72H372.50V53.03H372.72V79.10H372.94V53.03H373.16V53.03H373.38V82.98H373.60V67.60H373.82V53.03H374.03V53.03H374.25V55.57H374.47V53.03H374.69V74.94H374.91V67.56H375.13V53.03H375.35V76.77H375.57V56.05H375.79V76.95H376.01V70.21H376.23V56.45H376.45V53.03H376.67V77.70H376.89V79.31H377.11V53.03H377.33V74.92H377.55V53.03H377.77V76.85H377.99V53.03H378.21V82.25H378.43V79.80H378.65V79.22H378.87V64.70H379.09V169.18H378.87V171.12H378.65V143.99H378.43V171.12H378.21V171.12H377.99V171.12H377.77V161.83H377.55V154.90H377.33V171.12H377.11V171.12H376.89V171.12H376.67V138.94H376.45V171.12H376.23V171.12H376.01V171.12H375.79V150.25H375.57V163.94H375.35V144.90H375.13V171.12H374.91V171.12H374.69V137.52H374.47V146.30H374.25V139.83H374.03V171.12H373.82V138.53H373.60V149.13H373.38V171.12H373.16V147.04H372.94V138.98H372.72V135.17H372.50V171.12H372.28V137.21H372.06V153.36H371.84V171.12H371.62V171.12H371.40V141.45H371.18V140.76H370.96V171.12H370.74V149.07H370.52V154.18H370.30V148.59H370.08V160.31H369.86V152.55H369.64V171.12H369.42V150.25H369.20V164.23H368.98V171.12H368.76V171.12H368.54V145.36H368.32V171.12H368.10V139.33H367.88V171.12H367.66V152.70H367.44V151.55H367.22V171.12H367.00V138.93H366.79V144.19H366.57V137.67H366.35V137.21H366.13V171.12H365.91V171.12H365.69V145.11H365.47V171.12H365.25V137.15H365.03V171.12H364.81V150.49H364.59V150.43H364.37V135.68H364.15V139.32H363.93V171.12H363.71V136.29H363.49V165.78H363.27V153.98H363.05V154.44H362.83V148.13H362.61V140.01H362.39V171.12H362.17V150.72H361.95V149.08H361.73V171.12H361.51V150.80H361.29V158.61H361.07V171.12H360.85V138.89H360.63V142.16H360.41V142.53H360.19V149.62H359.98V154.25H359.76V165.37H359.54V137.38H359.32V166.27H359.10V140.67H358.88V171.12H358.66V147.32H358.44V151.02H358.22V135.89H358.00V142.79H357.78V146.88H357.56V171.12H357.34V171.12H357.12V158.98H356.90V147.08H356.68V137.32H356.46V151.46H356.24V171.12H356.02V139.33H355.80V171.12H355.58V138.46H355.36V148.51H355.14V171.12H354.92V139.67H354.70V138.65H354.48V138.89H354.26V139.88H354.04V137.00H353.82V171.12H353.60V139.80H353.38V146.37H353.16V139.87H352.95V139.45H352.73V136.35H352.51V142.62H352.29V171.12H352.07V171.12H351.85V137.00H351.63V139.70H351.41V171.12H351.19V159.48H350.97V162.71H350.75V168.74H350.53V152.13H350.31V165.78H350.09V164.29H349.87V156.00H349.65V153.85H349.43V171.12H349.21V142.21H348.99V171.12H348.77V171.12H348.55V171.12H348.33V171.12H348.11V146.25H347.89V171.12H347.67V138.51H347.45V158.91H347.23V171.12H347.01V171.12H346.79V139.79H346.57V163.83H346.35V171.12H346.13Z" fill="#0578c0" stroke="none"/>
<defs><linearGradient id="gb1t" gradientUnits="userSpaceOnUse" x1="0" x2="0" y1="55.44" y2="81.95"><stop offset="0" stop-color="#0a95cd" stop-opacity="0.4"/><stop offset="1" stop-color="#0a95cd" stop-opacity="1"/></linearGradient><linearGradient id="gb1b" gradientUnits="userSpaceOnUse" x1="0" x2="0" y1="166.30" y2="137.38"><stop offset="0" stop-color="#0a95cd" stop-opacity="0.32"/><stop offset="1" stop-color="#0a95cd" stop-opacity="1"/></linearGradient></defs>
<path d="M384.80 85.95V57.85H386.17V57.85H387.55V57.85H388.92V55.44H390.29V55.44H391.66V55.44H393.04V55.44H394.41V55.44H395.78V55.44H397.16V55.44H398.53V55.44H399.90V55.44H401.28V55.44H402.65V55.44H404.02V55.44H405.39V55.44H406.77V55.44H408.14V55.44H409.51V55.44H410.89V55.44H412.26V57.85H413.63V57.85H415.01V57.85H416.38V57.85H417.75V57.85V85.95Z" fill="url(#gb1t)"/>
<path d="M384.80 133.38V166.30H386.17V166.30H387.55V166.30H388.92V166.30H390.29V166.30H391.66V166.30H393.04V166.30H394.41V166.30H395.78V166.30H397.16V166.30H398.53V166.30H399.90V166.30H401.28V166.30H402.65V166.30H404.02V168.71H405.39V168.71H406.77V168.71H408.14V168.71H409.51V168.71H410.89V168.71H412.26V168.71H413.63V168.71H415.01V168.71H416.38V168.71H417.75V168.71V133.38Z" fill="url(#gb1b)"/>
<path d="M384.80 59.19V59.19H385.02V62.78H385.24V62.40H385.46V57.85H385.68V62.10H385.90V63.59H386.12V58.35H386.34V75.44H386.56V57.85H386.78V79.95H387.00V59.48H387.22V81.74H387.44V77.93H387.66V57.85H387.88V76.72H388.09V84.24H388.31V57.85H388.53V82.67H388.75V79.59H388.97V55.44H389.19V55.44H389.41V74.22H389.63V55.44H389.85V55.44H390.07V55.44H390.29V55.44H390.51V76.57H390.73V55.44H390.95V74.07H391.17V75.25H391.39V55.44H391.61V55.44H391.83V55.44H392.05V55.44H392.27V59.47H392.49V57.07H392.71V77.68H392.93V55.44H393.15V72.75H393.37V55.44H393.59V72.34H393.81V55.44H394.03V55.44H394.25V55.44H394.47V55.44H394.69V63.45H394.90V55.44H395.12V57.88H395.34V55.44H395.56V75.63H395.78V61.98H396.00V55.44H396.22V71.99H396.44V72.18H396.66V59.98H396.88V55.44H397.10V55.44H397.32V58.76H397.54V55.44H397.76V70.22H397.98V71.02H398.20V71.56H398.42V74.25H398.64V76.28H398.86V62.22H399.08V59.02H399.30V60.95H399.52V80.66H399.74V55.44H399.96V80.85H400.18V63.23H400.40V69.60H400.62V55.44H400.84V55.44H401.06V55.44H401.28V75.64H401.50V55.44H401.72V72.62H401.93V55.44H402.15V55.44H402.37V64.71H402.59V55.44H402.81V55.44H403.03V71.38H403.25V70.98H403.47V72.73H403.69V62.54H403.91V62.21H404.13V55.44H404.35V55.44H404.57V77.61H404.79V75.58H405.01V77.30H405.23V62.96H405.45V63.69H405.67V76.88H405.89V55.44H406.11V55.44H406.33V72.51H406.55V62.03H406.77V61.59H406.99V78.40H407.21V81.23H407.43V55.44H407.65V79.27H407.87V55.44H408.09V55.44H408.31V55.44H408.53V56.57H408.75V61.21H408.96V55.44H409.18V55.44H409.40V75.29H409.62V66.67H409.84V72.12H410.06V67.80H410.28V77.66H410.50V55.44H410.72V55.44H410.94V55.44H411.16V66.34H411.38V78.33H411.60V57.85H411.82V82.26H412.04V66.90H412.26V80.62H412.48V68.23H412.70V57.85H412.92V63.70H413.14V65.10H413.36V69.63H413.58V62.26H413.80V66.67H414.02V57.85H414.24V57.85H414.46V62.22H414.68V57.85H414.90V57.85H415.12V57.85H415.34V57.85H415.56V57.85H415.77V57.85H415.99V64.25H416.21V68.98H416.43V62.61H416.65V82.31H416.87V67.66H417.09V63.02H417.31V57.85H417.53V57.85H417.75V159.50H417.53V156.18H417.31V168.71H417.09V145.04H416.87V140.55H416.65V168.71H416.43V168.71H416.21V168.71H415.99V168.71H415.77V160.01H415.56V168.71H415.34V151.10H415.12V154.67H414.90V141.39H414.68V146.65H414.46V140.95H414.24V143.98H414.02V156.99H413.80V168.71H413.58V148.97H413.36V168.71H413.14V141.97H412.92V168.71H412.70V168.71H412.48V140.51H412.26V168.71H412.04V168.71H411.82V145.54H411.60V168.71H411.38V168.71H411.16V161.11H410.94V148.18H410.72V143.58H410.50V168.71H410.28V156.75H410.06V168.71H409.84V158.09H409.62V168.71H409.40V168.71H409.18V155.87H408.96V149.12H408.75V168.71H408.53V168.71H408.31V168.71H408.09V155.46H407.87V157.75H407.65V147.40H407.43V168.71H407.21V146.70H406.99V140.45H406.77V166.15H406.55V145.27H406.33V168.71H406.11V168.71H405.89V168.71H405.67V153.05H405.45V140.46H405.23V168.71H405.01V158.37H404.79V168.71H404.57V150.29H404.35V145.82H404.13V155.95H403.91V168.71H403.69V141.58H403.47V168.71H403.25V143.28H403.03V142.10H402.81V166.30H402.59V149.42H402.37V139.88H402.15V148.33H401.93V161.12H401.72V166.30H401.50V166.30H401.28V166.30H401.06V166.30H400.84V143.58H400.62V166.30H400.40V155.23H400.18V137.52H399.96V166.30H399.74V143.37H399.52V166.30H399.30V166.30H399.08V166.30H398.86V150.43H398.64V166.30H398.42V166.30H398.20V166.30H397.98V166.30H397.76V158.21H397.54V151.76H397.32V148.13H397.10V154.89H396.88V146.66H396.66V138.04H396.44V166.30H396.22V147.93H396.00V166.30H395.78V166.30H395.56V158.37H395.34V140.32H395.12V147.87H394.90V166.30H394.69V166.30H394.47V158.55H394.25V166.30H394.03V166.30H393.81V166.30H393.59V150.04H393.37V155.94H393.15V156.74H392.93V152.89H392.71V154.44H392.49V151.10H392.27V148.51H392.05V166.30H391.83V143.20H391.61V157.33H391.39V166.30H391.17V143.84H390.95V166.30H390.73V166.30H390.51V143.14H390.29V137.56H390.07V166.30H389.85V137.95H389.63V138.47H389.41V156.63H389.19V166.30H388.97V146.50H388.75V141.57H388.53V166.30H388.31V152.99H388.09V141.73H387.88V166.30H387.66V166.30H387.44V166.30H387.22V140.07H387.00V140.30H386.78V138.86H386.56V148.25H386.34V166.30H386.12V137.75H385.90V152.18H385.68V140.07H385.46V146.18H385.24V155.06H385.02V140.79H384.80Z" fill="#0a95cd" stroke="none"/>
<defs><linearGradient id="gb2t" gradientUnits="userSpaceOnUse" x1="0" x2="0" y1="60.26" y2="84.36"><stop offset="0" stop-color="#5cb4da" stop-opacity="0.4"/><stop offset="1" stop-color="#5cb4da" stop-opacity="1"/></linearGradient><linearGradient id="gb2b" gradientUnits="userSpaceOnUse" x1="0" x2="0" y1="159.07" y2="134.97"><stop offset="0" stop-color="#5cb4da" stop-opacity="0.36"/><stop offset="1" stop-color="#5cb4da" stop-opacity="1"/></linearGradient></defs>
<path d="M423.46 88.36V60.26H424.84V60.26H426.21V60.26H427.58V60.26H428.96V60.26H430.33V60.26H431.70V60.26H433.08V60.26H434.45V60.26H435.82V60.26H437.19V60.26H438.57V60.26H439.94V60.26H441.31V60.26H442.69V60.26H444.06V60.26H445.43V60.26H446.81V60.26H448.18V60.26H449.55V60.26H450.92V60.26H452.30V60.26H453.67V60.26H455.04V60.26H456.42V60.26V88.36Z" fill="url(#gb2t)"/>
<path d="M423.46 130.97V159.07H424.84V159.07H426.21V159.07H427.58V159.07H428.96V159.07H430.33V159.07H431.70V159.07H433.08V159.07H434.45V159.07H435.82V159.07H437.19V159.07H438.57V159.07H439.94V159.07H441.31V159.07H442.69V159.07H444.06V159.07H445.43V159.07H446.81V159.07H448.18V159.07H449.55V159.07H450.92V159.07H452.30V161.00H453.67V161.00H455.04V161.00H456.42V161.00V130.97Z" fill="url(#gb2b)"/>
<path d="M423.46 69.98V69.98H423.68V60.26H423.90V75.74H424.12V82.40H424.34V80.80H424.56V60.26H424.78V60.26H425.00V79.52H425.22V84.18H425.44V68.29H425.66V65.08H425.88V70.55H426.10V65.23H426.32V77.39H426.54V73.11H426.76V81.82H426.98V60.26H427.20V67.62H427.42V66.87H427.64V83.47H427.86V73.44H428.08V60.26H428.30V81.01H428.52V82.03H428.74V60.26H428.96V60.26H429.18V78.74H429.40V80.83H429.62V60.26H429.83V84.21H430.05V83.00H430.27V60.26H430.49V77.72H430.71V75.44H430.93V75.23H431.15V60.26H431.37V82.39H431.59V83.05H431.81V80.49H432.03V60.26H432.25V63.84H432.47V79.37H432.69V66.25H432.91V60.26H433.13V78.60H433.35V62.54H433.57V60.26H433.79V60.26H434.01V60.26H434.23V60.26H434.45V60.26H434.67V60.26H434.89V83.84H435.11V66.86H435.33V60.26H435.55V70.76H435.77V71.65H435.99V60.68H436.21V60.26H436.43V69.41H436.64V83.38H436.86V80.24H437.08V60.26H437.30V60.26H437.52V60.26H437.74V60.26H437.96V77.11H438.18V60.26H438.40V60.26H438.62V68.86H438.84V60.26H439.06V60.26H439.28V60.26H439.50V83.33H439.72V60.26H439.94V81.59H440.16V79.48H440.38V60.26H440.60V76.92H440.82V60.26H441.04V60.26H441.26V60.26H441.48V66.24H441.70V60.26H441.92V61.85H442.14V73.02H442.36V60.26H442.58V75.43H442.80V60.26H443.02V74.43H443.24V77.74H443.46V83.58H443.67V69.86H443.89V80.26H444.11V78.13H444.33V60.26H444.55V68.84H444.77V79.55H444.99V82.55H445.21V63.69H445.43V60.26H445.65V68.38H445.87V60.26H446.09V68.91H446.31V84.32H446.53V79.58H446.75V83.39H446.97V65.40H447.19V75.00H447.41V71.29H447.63V60.26H447.85V61.89H448.07V78.98H448.29V60.26H448.51V60.26H448.73V73.52H448.95V67.47H449.17V79.84H449.39V72.84H449.61V78.00H449.83V80.88H450.05V60.26H450.27V60.26H450.49V60.26H450.70V65.88H450.92V84.01H451.14V71.49H451.36V60.26H451.58V75.48H451.80V60.26H452.02V77.75H452.24V60.26H452.46V60.26H452.68V64.63H452.90V82.94H453.12V60.41H453.34V69.78H453.56V82.46H453.78V60.26H454.00V60.26H454.22V70.03H454.44V63.04H454.66V60.26H454.88V60.26H455.10V76.77H455.32V75.23H455.54V60.26H455.76V80.44H455.98V75.43H456.20V60.26H456.42V150.84H456.20V144.28H455.98V161.00H455.76V161.00H455.54V161.00H455.32V152.94H455.10V136.99H454.88V161.00H454.66V137.17H454.44V146.98H454.22V161.00H454.00V161.00H453.78V139.54H453.56V159.59H453.34V161.00H453.12V141.91H452.90V142.06H452.68V151.66H452.46V161.00H452.24V161.00H452.02V144.29H451.80V141.78H451.58V161.00H451.36V147.05H451.14V159.07H450.92V145.85H450.70V138.60H450.49V143.30H450.27V145.06H450.05V136.10H449.83V149.04H449.61V159.07H449.39V142.55H449.17V141.10H448.95V148.58H448.73V159.07H448.51V152.31H448.29V159.07H448.07V143.77H447.85V159.07H447.63V159.07H447.41V151.95H447.19V154.91H446.97V152.36H446.75V137.00H446.53V141.84H446.31V159.07H446.09V149.50H445.87V140.48H445.65V144.31H445.43V152.91H445.21V144.60H444.99V159.07H444.77V153.66H444.55V159.07H444.33V159.07H444.11V137.66H443.89V159.07H443.67V136.01H443.46V139.14H443.24V159.07H443.02V159.07H442.80V159.07H442.58V137.06H442.36V141.31H442.14V138.13H441.92V159.07H441.70V159.07H441.48V135.04H441.26V145.35H441.04V135.41H440.82V159.07H440.60V159.07H440.38V135.31H440.16V153.27H439.94V150.09H439.72V136.12H439.50V139.28H439.28V159.07H439.06V159.07H438.84V159.07H438.62V159.07H438.40V148.32H438.18V146.62H437.96V159.07H437.74V143.25H437.52V137.98H437.30V145.11H437.08V139.99H436.86V159.07H436.64V140.24H436.43V145.13H436.21V139.14H435.99V159.07H435.77V146.19H435.55V135.45H435.33V151.52H435.11V135.78H434.89V159.07H434.67V159.07H434.45V147.29H434.23V159.07H434.01V135.00H433.79V139.99H433.57V144.29H433.35V159.07H433.13V138.80H432.91V136.38H432.69V159.07H432.47V159.07H432.25V142.92H432.03V141.29H431.81V151.55H431.59V135.63H431.37V159.07H431.15V136.93H430.93V150.36H430.71V159.07H430.49V159.07H430.27V159.07H430.05V145.57H429.83V149.38H429.62V146.09H429.40V153.30H429.18V159.07H428.96V139.68H428.74V149.68H428.52V143.48H428.30V152.81H428.08V139.06H427.86V159.07H427.64V145.12H427.42V159.07H427.20V159.07H426.98V159.07H426.76V159.07H426.54V159.07H426.32V138.88H426.10V137.24H425.88V146.53H425.66V145.57H425.44V138.71H425.22V159.07H425.00V140.70H424.78V159.07H424.56V159.07H424.34V146.74H424.12V159.07H423.90V137.65H423.68V159.07H423.46Z" fill="#5cb4da" stroke="none"/>
<defs><linearGradient id="gb3t" gradientUnits="userSpaceOnUse" x1="0" x2="0" y1="67.49" y2="89.18"><stop offset="0" stop-color="#9ed0e5" stop-opacity="0.4"/><stop offset="1" stop-color="#9ed0e5" stop-opacity="1"/></linearGradient><linearGradient id="gb3b" gradientUnits="userSpaceOnUse" x1="0" x2="0" y1="149.43" y2="134.97"><stop offset="0" stop-color="#9ed0e5" stop-opacity="0.42"/><stop offset="1" stop-color="#9ed0e5" stop-opacity="1"/></linearGradient></defs>
<path d="M462.13 93.18V67.49H463.50V67.49H464.87V67.49H466.25V67.49H467.62V67.49H468.99V67.49H470.37V67.49H471.74V67.49H473.11V67.49H474.49V67.49H475.86V67.49H477.23V67.49H478.60V67.49H479.98V67.49H481.35V67.49H482.72V67.49H484.10V67.49H485.47V67.49H486.84V67.49H488.22V67.49H489.59V67.49H490.96V67.49H492.33V67.49H493.71V67.49H495.08V67.49V93.18Z" fill="url(#gb3t)"/>
<path d="M462.13 130.97V148.95H463.50V148.95H464.87V148.95H466.25V148.95H467.62V148.95H468.99V148.95H470.37V148.95H471.74V148.95H473.11V148.95H474.49V151.36H475.86V151.36H477.23V151.36H478.60V151.36H479.98V151.36H481.35V151.36H482.72V151.36H484.10V151.36H485.47V151.36H486.84V151.36H488.22V151.36H489.59V151.36H490.96V151.36H492.33V151.36H493.71V151.36H495.08V151.36V130.97Z" fill="url(#gb3b)"/>
<path d="M462.13 74.46V74.46H462.35V67.49H462.57V74.00H462.79V80.01H463.01V67.49H463.23V67.49H463.45V88.07H463.67V67.49H463.89V72.65H464.11V82.82H464.33V67.49H464.54V84.11H464.76V78.60H464.98V67.73H465.20V67.49H465.42V67.49H465.64V83.58H465.86V67.49H466.08V67.49H466.30V79.86H466.52V85.90H466.74V71.65H466.96V88.77H467.18V71.28H467.40V84.22H467.62V67.49H467.84V67.73H468.06V82.61H468.28V71.34H468.50V67.49H468.72V76.17H468.94V81.68H469.16V81.24H469.38V76.58H469.60V74.01H469.82V78.30H470.04V75.23H470.26V80.29H470.48V77.39H470.70V85.97H470.92V67.49H471.14V67.49H471.35V67.49H471.57V83.67H471.79V67.49H472.01V88.60H472.23V67.49H472.45V77.27H472.67V87.34H472.89V78.35H473.11V67.49H473.33V76.46H473.55V73.29H473.77V67.49H473.99V74.77H474.21V67.49H474.43V67.49H474.65V67.49H474.87V67.49H475.09V81.41H475.31V67.49H475.53V67.49H475.75V67.49H475.97V67.49H476.19V67.49H476.41V67.49H476.63V67.49H476.85V86.39H477.07V71.05H477.29V89.06H477.51V67.49H477.73V67.49H477.95V80.27H478.17V79.82H478.38V67.49H478.60V81.20H478.82V77.27H479.04V76.37H479.26V67.49H479.48V72.55H479.70V78.03H479.92V86.21H480.14V67.49H480.36V79.89H480.58V67.49H480.80V71.89H481.02V76.08H481.24V82.22H481.46V80.86H481.68V74.00H481.90V84.78H482.12V86.03H482.34V68.91H482.56V75.04H482.78V80.36H483.00V86.18H483.22V73.55H483.44V67.49H483.66V71.49H483.88V67.49H484.10V78.74H484.32V85.83H484.54V67.49H484.76V72.08H484.98V79.06H485.20V67.49H485.41V77.83H485.63V77.24H485.85V67.49H486.07V67.49H486.29V78.04H486.51V79.38H486.73V67.49H486.95V67.49H487.17V67.49H487.39V67.49H487.61V81.93H487.83V75.59H488.05V85.91H488.27V73.21H488.49V72.22H488.71V67.49H488.93V67.49H489.15V86.30H489.37V67.49H489.59V73.89H489.81V74.14H490.03V67.49H490.25V72.33H490.47V67.49H490.69V67.49H490.91V74.65H491.13V67.49H491.35V67.49H491.57V85.28H491.79V67.49H492.01V67.49H492.22V78.75H492.44V79.47H492.66V78.07H492.88V81.42H493.10V70.36H493.32V68.17H493.54V79.35H493.76V84.32H493.98V83.00H494.20V67.49H494.42V75.48H494.64V85.78H494.86V67.49H495.08V151.36H494.86V151.36H494.64V144.26H494.42V151.36H494.20V151.36H493.98V151.36H493.76V151.36H493.54V140.38H493.32V151.36H493.10V151.36H492.88V141.15H492.66V151.36H492.44V139.01H492.22V151.36H492.01V151.36H491.79V145.71H491.57V151.36H491.35V147.43H491.13V151.36H490.91V151.36H490.69V148.95H490.47V139.36H490.25V151.36H490.03V140.21H489.81V144.25H489.59V141.04H489.37V151.36H489.15V142.53H488.93V151.36H488.71V151.36H488.49V151.36H488.27V139.95H488.05V138.84H487.83V147.20H487.61V151.36H487.39V151.36H487.17V142.02H486.95V151.36H486.73V138.83H486.51V146.65H486.29V151.36H486.07V138.00H485.85V141.80H485.63V151.36H485.41V145.10H485.20V151.36H484.98V142.24H484.76V140.58H484.54V145.41H484.32V144.61H484.10V138.06H483.88V151.36H483.66V151.36H483.44V143.80H483.22V141.45H483.00V151.36H482.78V146.24H482.56V137.14H482.34V147.59H482.12V151.36H481.90V138.43H481.68V138.90H481.46V151.36H481.24V147.03H481.02V146.34H480.80V144.93H480.58V145.89H480.36V139.86H480.14V151.36H479.92V151.36H479.70V140.04H479.48V143.51H479.26V151.36H479.04V151.36H478.82V151.36H478.60V151.36H478.38V151.36H478.17V146.38H477.95V144.49H477.73V151.36H477.51V151.36H477.29V151.36H477.07V143.17H476.85V151.36H476.63V137.01H476.41V138.61H476.19V151.36H475.97V151.36H475.75V151.36H475.53V141.70H475.31V151.36H475.09V145.32H474.87V144.42H474.65V146.05H474.43V151.36H474.21V151.36H473.99V143.05H473.77V143.33H473.55V135.46H473.33V148.95H473.11V148.95H472.89V135.67H472.67V148.95H472.45V136.91H472.23V142.97H472.01V139.13H471.79V148.95H471.57V137.51H471.35V143.32H471.14V148.95H470.92V136.97H470.70V148.95H470.48V148.95H470.26V137.24H470.04V143.69H469.82V148.95H469.60V148.95H469.38V148.95H469.16V137.84H468.94V136.43H468.72V148.95H468.50V148.95H468.28V148.95H468.06V148.95H467.84V148.95H467.62V148.95H467.40V148.95H467.18V148.95H466.96V137.30H466.74V144.48H466.52V142.04H466.30V143.54H466.08V135.19H465.86V144.21H465.64V143.08H465.42V134.54H465.20V148.95H464.98V145.51H464.76V143.99H464.54V148.95H464.33V148.95H464.11V148.95H463.89V137.21H463.67V148.95H463.45V141.81H463.23V148.95H463.01V138.26H462.79V135.97H462.57V148.95H462.35V142.78H462.13Z" fill="#9ed0e5" stroke="none"/>
<path d="M466.63 85.90V144.48M469.93 78.30V143.69M472.34 67.49V136.91M473.22 67.49V148.95M476.08 67.49V151.36M489.04 67.49V142.53" stroke="#fff" stroke-opacity="0.12" stroke-width="0.33" fill="none"/>
<defs><linearGradient id="gb4t" gradientUnits="userSpaceOnUse" x1="0" x2="0" y1="67.49" y2="86.77"><stop offset="0" stop-color="#d7ecf3" stop-opacity="0.4"/><stop offset="1" stop-color="#d7ecf3" stop-opacity="1"/></linearGradient><linearGradient id="gb4b" gradientUnits="userSpaceOnUse" x1="0" x2="0" y1="146.54" y2="134.49"><stop offset="0" stop-color="#d7ecf3" stop-opacity="0.42"/><stop offset="1" stop-color="#d7ecf3" stop-opacity="1"/></linearGradient></defs>
<path d="M500.79 90.77V67.49L502.17 67.49L503.54 67.49L504.91 67.49L506.28 67.49L507.66 67.49L509.03 67.49L510.40 67.49L511.78 67.49L513.15 67.49L514.52 67.49L515.90 67.49L517.27 67.49L518.64 67.49L520.02 67.49L521.39 67.49L522.76 67.49L524.13 67.49L525.51 67.49L526.88 67.49L528.25 67.49L529.63 67.49L531.00 67.49L532.37 67.49L533.75 67.49V90.77Z" fill="url(#gb4t)"/>
<path d="M500.79 130.49V146.54L502.17 146.54L503.54 146.54L504.91 146.54L506.28 146.54L507.66 146.54L509.03 146.54L510.40 146.54L511.78 146.54L513.15 146.54L514.52 146.54L515.90 146.54L517.27 146.54L518.64 146.54L520.02 146.54L521.39 146.54L522.76 146.54L524.13 146.54L525.51 146.54L526.88 146.54L528.25 146.54L529.63 146.54L531.00 146.54L532.37 146.54L533.75 146.54V130.49Z" fill="url(#gb4b)"/>
<path d="M500.79 67.49V67.49H501.01V81.48H501.23V73.06H501.45V67.49H501.67V67.49H501.89V67.49H502.11V67.49H502.33V73.41H502.55V67.49H502.77V67.49H502.99V85.00H503.21V67.49H503.43V83.82H503.65V67.49H503.87V83.28H504.09V83.82H504.31V76.21H504.53V85.70H504.75V83.26H504.97V75.19H505.19V73.81H505.41V67.49H505.63V86.72H505.85V72.24H506.07V67.49H506.28V86.06H506.50V80.07H506.72V76.66H506.94V67.49H507.16V67.49H507.38V84.20H507.60V80.06H507.82V67.49H508.04V76.30H508.26V67.49H508.48V67.49H508.70V69.13H508.92V67.49H509.14V67.49H509.36V80.58H509.58V79.73H509.80V68.63H510.02V86.29H510.24V79.15H510.46V67.49H510.68V68.68H510.90V67.49H511.12V80.40H511.34V83.28H511.56V76.49H511.78V67.49H512.00V67.49H512.22V67.49H512.44V69.63H512.66V67.49H512.88V67.49H513.10V83.95H513.31V73.42H513.53V70.49H513.75V84.14H513.97V85.54H514.19V84.40H514.41V67.49H514.63V73.69H514.85V67.49H515.07V67.49H515.29V71.93H515.51V71.98H515.73V67.49H515.95V84.79H516.17V67.49H516.39V83.37H516.61V67.49H516.83V73.11H517.05V80.96H517.27V85.83H517.49V73.98H517.71V83.11H517.93V78.23H518.15V76.31H518.37V85.58H518.59V74.61H518.81V85.30H519.03V71.47H519.25V77.00H519.47V83.93H519.69V67.49H519.91V67.49H520.12V73.26H520.34V85.06H520.56V67.49H520.78V77.62H521.00V67.49H521.22V79.31H521.44V67.49H521.66V72.96H521.88V67.49H522.10V77.52H522.32V67.49H522.54V67.49H522.76V67.49H522.98V67.49H523.20V74.44H523.42V67.49H523.64V75.77H523.86V76.62H524.08V81.52H524.30V67.49H524.52V67.49H524.74V74.88H524.96V67.49H525.18V83.87H525.40V67.97H525.62V76.54H525.84V67.49H526.06V68.86H526.28V67.54H526.50V80.92H526.72V72.94H526.94V72.76H527.15V67.49H527.37V67.49H527.59V67.49H527.81V67.49H528.03V81.91H528.25V86.10H528.47V67.49H528.69V67.49H528.91V74.30H529.13V67.49H529.35V77.60H529.57V82.38H529.79V79.64H530.01V67.49H530.23V85.01H530.45V67.49H530.67V81.41H530.89V86.50H531.11V67.49H531.33V72.26H531.55V84.59H531.77V78.03H531.99V67.49H532.21V72.82H532.43V67.49H532.65V70.55H532.87V82.37H533.09V82.82H533.31V67.49H533.53V67.49H533.75V146.54H533.53V135.90H533.31V146.54H533.09V146.54H532.87V143.47H532.65V136.40H532.43V134.92H532.21V146.54H531.99V140.25H531.77V146.54H531.55V143.58H531.33V146.54H531.11V146.54H530.89V146.54H530.67V140.11H530.45V146.54H530.23V143.54H530.01V140.35H529.79V146.54H529.57V146.54H529.35V146.54H529.13V146.54H528.91V146.54H528.69V135.24H528.47V146.54H528.25V141.23H528.03V140.88H527.81V146.54H527.59V146.54H527.37V137.87H527.15V146.54H526.94V137.69H526.72V136.54H526.50V146.54H526.28V141.71H526.06V136.35H525.84V140.51H525.62V145.07H525.40V139.81H525.18V146.54H524.96V146.54H524.74V136.14H524.52V146.54H524.30V137.33H524.08V142.08H523.86V137.71H523.64V139.04H523.42V141.51H523.20V146.54H522.98V141.62H522.76V140.66H522.54V136.90H522.32V138.28H522.10V141.47H521.88V146.54H521.66V134.64H521.44V141.29H521.22V146.54H521.00V139.44H520.78V146.54H520.56V137.38H520.34V146.54H520.12V143.72H519.91V139.47H519.69V146.54H519.47V145.22H519.25V137.32H519.03V138.80H518.81V138.90H518.59V140.60H518.37V146.54H518.15V146.54H517.93V146.54H517.71V146.54H517.49V137.97H517.27V139.80H517.05V146.54H516.83V146.54H516.61V136.81H516.39V146.54H516.17V146.54H515.95V146.54H515.73V146.54H515.51V146.54H515.29V138.91H515.07V140.61H514.85V137.03H514.63V146.54H514.41V140.98H514.19V146.54H513.97V140.37H513.75V136.21H513.53V146.54H513.31V146.54H513.10V142.78H512.88V137.84H512.66V146.54H512.44V146.54H512.22V134.95H512.00V134.96H511.78V146.54H511.56V141.33H511.34V146.54H511.12V146.54H510.90V136.00H510.68V144.32H510.46V134.88H510.24V138.80H510.02V138.10H509.80V137.97H509.58V146.54H509.36V146.54H509.14V135.26H508.92V137.10H508.70V134.59H508.48V137.69H508.26V139.54H508.04V144.19H507.82V145.67H507.60V134.73H507.38V146.54H507.16V141.91H506.94V138.54H506.72V146.54H506.50V146.54H506.28V146.54H506.07V142.31H505.85V136.05H505.63V140.29H505.41V135.28H505.19V146.54H504.97V138.96H504.75V137.13H504.53V146.54H504.31V140.39H504.09V137.68H503.87V146.54H503.65V146.54H503.43V136.85H503.21V146.54H502.99V139.88H502.77V138.55H502.55V146.54H502.33V146.54H502.11V139.80H501.89V146.54H501.67V146.54H501.45V146.54H501.23V146.54H501.01V135.66H500.79Z" fill="#d7ecf3" stroke="none"/>
<path d="M503.32 67.49V136.85M504.64 85.70V137.13M505.30 73.81V135.28M507.93 67.49V144.19M508.37 67.49V137.69M509.69 79.73V137.97M514.08 85.54V146.54M515.18 67.49V138.91M525.07 67.49V146.54M526.61 80.92V136.54M527.92 67.49V140.88" stroke="#fff" stroke-opacity="0.12" stroke-width="0.33" fill="none"/>
<rect x="335.70" y="21.70" width="208.70" height="168.70" fill="none" stroke="#333" stroke-width="0.9"/>
<path d="M346.68 190.40v-3.2M346.68 21.70v3.2M390.62 190.40v-3.2M390.62 21.70v3.2M434.56 190.40v-3.2M434.56 21.70v3.2M478.49 190.40v-3.2M478.49 21.70v3.2M522.43 190.40v-3.2M522.43 21.70v3.2" stroke="#444" stroke-width="0.85" fill="none"/>
<path d="M335.70 33.75h3.2M544.40 33.75h-3.2M335.70 57.85h3.2M544.40 57.85h-3.2M335.70 81.95h3.2M544.40 81.95h-3.2M335.70 106.05h3.2M544.40 106.05h-3.2M335.70 130.15h3.2M544.40 130.15h-3.2M335.70 154.25h3.2M544.40 154.25h-3.2M335.70 178.35h3.2M544.40 178.35h-3.2" stroke="#444" stroke-width="0.85" fill="none"/>
<text x="346.68" y="203.90" font-size="11.3" text-anchor="middle" stroke="#0d0d0d" stroke-width="0.12">0</text>
<text x="390.62" y="203.90" font-size="11.3" text-anchor="middle" stroke="#0d0d0d" stroke-width="0.12">20</text>
<text x="434.56" y="203.90" font-size="11.3" text-anchor="middle" stroke="#0d0d0d" stroke-width="0.12">40</text>
<text x="478.49" y="203.90" font-size="11.3" text-anchor="middle" stroke="#0d0d0d" stroke-width="0.12">60</text>
<text x="522.43" y="203.90" font-size="11.3" text-anchor="middle" stroke="#0d0d0d" stroke-width="0.12">80</text>
<text x="332.70" y="38.05" font-size="11.3" text-anchor="end" stroke="#0d0d0d" stroke-width="0.12">30</text>
<text x="332.70" y="62.15" font-size="11.3" text-anchor="end" stroke="#0d0d0d" stroke-width="0.12">20</text>
<text x="332.70" y="86.25" font-size="11.3" text-anchor="end" stroke="#0d0d0d" stroke-width="0.12">10</text>
<text x="332.70" y="110.35" font-size="11.3" text-anchor="end" stroke="#0d0d0d" stroke-width="0.12">0</text>
<text x="332.70" y="134.45" font-size="11.3" text-anchor="end" stroke="#0d0d0d" stroke-width="0.12">−10</text>
<text x="332.70" y="158.55" font-size="11.3" text-anchor="end" stroke="#0d0d0d" stroke-width="0.12">−20</text>
<text x="332.70" y="182.65" font-size="11.3" text-anchor="end" stroke="#0d0d0d" stroke-width="0.12">−30</text>
<text x="440.60" y="222.50" font-size="12.7" text-anchor="middle" stroke="#0d0d0d" stroke-width="0.12">Time (s)</text>
<text transform="translate(305.90 97.75) rotate(-90)" font-size="12.8" text-anchor="middle" stroke="#0d0d0d" stroke-width="0.12">Short-Circuit Current (nA)</text>
<text x="281.60" y="16.50" font-size="18.0" text-anchor="start" font-weight="bold" stroke="#0d0d0d" stroke-width="0.22">(b)</text>
<line x1="348.00" y1="33.70" x2="360.60" y2="33.70" stroke="#0578c0" stroke-width="2.1"/>
<text x="362.90" y="37.40" font-size="9.2" text-anchor="start" font-weight="bold" stroke="#0d0d0d" stroke-width="0.22">2.5</text>
<line x1="386.75" y1="33.70" x2="399.35" y2="33.70" stroke="#0a95cd" stroke-width="2.1"/>
<text x="401.65" y="37.40" font-size="9.2" text-anchor="start" font-weight="bold" stroke="#0d0d0d" stroke-width="0.22">2.0</text>
<line x1="425.50" y1="33.70" x2="438.10" y2="33.70" stroke="#5cb4da" stroke-width="2.1"/>
<text x="440.40" y="37.40" font-size="9.2" text-anchor="start" font-weight="bold" stroke="#0d0d0d" stroke-width="0.22">1.5</text>
<line x1="464.25" y1="33.70" x2="476.85" y2="33.70" stroke="#9ed0e5" stroke-width="2.1"/>
<text x="479.15" y="37.40" font-size="9.2" text-anchor="start" font-weight="bold" stroke="#0d0d0d" stroke-width="0.22">1.0</text>
<line x1="503.00" y1="33.70" x2="515.60" y2="33.70" stroke="#d7ecf3" stroke-width="2.1"/>
<text x="517.90" y="37.40" font-size="9.2" text-anchor="start" font-weight="bold" stroke="#0d0d0d" stroke-width="0.22">0.5</text>
<line x1="517.20" y1="60.40" x2="371.78" y2="48.95" stroke="#2a8bcb" stroke-width="1.2"/>
<polygon points="364.80,48.40 372.05,45.46 371.50,52.44" fill="#2a8bcb"/>
<text x="528.90" y="170.80" font-size="10.5" text-anchor="end" font-weight="bold" stroke="#0d0d0d" stroke-width="0.22">Low motor speed</text>
<text x="530.50" y="185.50" font-size="10.5" text-anchor="end" font-weight="bold" stroke="#0d0d0d" stroke-width="0.22">Fixed width of 5 cm</text>
<polyline points="63.56,404.19 63.71,404.19 63.87,404.19 64.02,404.19 64.18,404.19 64.34,404.19 64.49,404.19 64.65,404.19 64.80,404.19 64.96,404.19 65.11,404.19 65.27,404.19 65.42,404.19 65.58,404.19 65.73,404.19 65.89,404.19 66.04,404.18 66.20,404.18 66.35,404.18 66.51,404.18 66.66,404.18 66.82,404.18 66.97,404.18 67.13,404.18 67.28,404.18 67.44,404.18 67.59,404.18 67.75,404.18 67.90,404.18 68.06,404.18 68.21,404.18 68.37,404.18 68.53,404.18 68.68,404.18 68.84,404.17 68.99,404.17 69.15,404.17 69.30,404.17 69.46,404.17 69.61,404.17 69.77,404.17 69.92,404.17 70.08,404.17 70.23,404.17 70.39,404.17 70.54,404.17 70.70,404.16 70.85,404.16 71.01,404.16 71.16,404.16 71.32,404.16 71.47,404.16 71.63,404.16 71.78,404.16 71.94,404.16 72.09,404.15 72.25,404.15 72.40,404.15 72.56,404.15 72.72,404.15 72.87,404.15 73.03,404.15 73.18,404.14 73.34,404.14 73.49,404.14 73.65,404.14 73.80,404.14 73.96,404.13 74.11,404.13 74.27,404.13 74.42,404.13 74.58,404.12 74.73,404.12 74.89,404.12 75.04,404.12 75.20,404.11 75.35,404.11 75.51,404.11 75.66,404.10 75.82,404.10 75.97,404.09 76.13,404.09 76.28,404.09 76.44,404.08 76.59,404.07 76.75,404.07 76.91,404.06 77.06,404.06 77.22,404.05 77.37,404.04 77.53,404.04 77.68,404.03 77.84,404.02 77.99,404.01 78.15,404.00 78.30,403.99 78.46,403.97 78.61,403.96 78.77,403.94 78.92,403.93 79.08,403.91 79.23,403.89 79.39,403.86 79.54,403.84 79.70,403.81 79.85,403.78 80.01,403.74 80.16,403.70 80.32,403.65 80.47,403.59 80.63,403.53 80.78,403.45 80.94,403.36 81.10,403.26 81.25,403.13 81.41,402.97 81.56,402.78 81.72,402.53 81.75,402.48 81.78,402.42 81.81,402.35 81.84,402.28 81.87,402.21 81.90,402.14 81.93,402.06 81.96,401.97 82.00,401.88 82.03,401.78 82.06,401.67 82.09,401.56 82.12,401.44 82.15,401.31 82.18,401.16 82.21,401.01 82.24,400.84 82.27,400.65 82.31,400.45 82.34,400.22 82.37,399.97 82.40,399.70 82.43,399.39 82.46,399.05 82.49,398.67 82.52,398.25 82.55,397.77 82.58,397.24 82.62,396.65 82.65,396.00 82.68,395.28 82.71,394.49 82.74,393.66 82.77,392.78 82.80,391.90 82.83,391.06 82.86,390.30 82.90,389.70 82.93,389.32 82.96,389.18 82.99,389.32 83.02,389.70 83.05,390.30 83.08,391.05 83.11,391.89 83.14,392.77 83.17,393.65 83.21,394.49 83.24,395.27 83.27,395.99 83.30,396.64 83.33,397.23 83.36,397.76 83.39,398.23 83.42,398.66 83.45,399.03 83.49,399.37 83.52,399.68 83.55,399.95 83.58,400.20 83.61,400.42 83.64,400.63 83.67,400.81 83.70,400.98 83.73,401.14 83.76,401.28 83.80,401.41 83.83,401.53 83.86,401.64 83.89,401.75 83.92,401.84 83.95,401.94 83.98,402.02 84.01,402.10 84.04,402.17 84.07,402.25 84.11,402.31 84.14,402.37 84.17,402.43 84.20,402.49 84.35,402.73 84.51,402.92 84.66,403.07 84.82,403.19 84.97,403.29 85.13,403.37 85.29,403.44 85.44,403.50 85.60,403.55 85.75,403.59 85.91,403.62 86.06,403.65 86.22,403.68 86.37,403.70 86.53,403.72 86.68,403.73 86.84,403.74 86.99,403.75 87.15,403.76 87.30,403.76 87.46,403.76 87.61,403.76 87.77,403.76 87.92,403.76 88.08,403.75 88.23,403.75 88.39,403.74 88.54,403.73 88.70,403.72 88.85,403.70 89.01,403.69 89.16,403.67 89.32,403.65 89.48,403.63 89.63,403.60 89.79,403.58 89.94,403.55 90.10,403.51 90.25,403.47 90.41,403.43 90.56,403.38 90.72,403.33 90.87,403.27 91.03,403.21 91.18,403.13 91.34,403.05 91.49,402.96 91.65,402.85 91.80,402.73 91.96,402.60 92.11,402.44 92.27,402.26 92.42,402.05 92.58,401.82 92.73,401.54 92.89,401.21 93.04,400.81 93.20,400.34 93.35,399.76 93.39,399.62 93.42,399.48 93.45,399.34 93.48,399.18 93.51,399.01 93.54,398.84 93.57,398.66 93.60,398.46 93.63,398.25 93.67,398.02 93.70,397.78 93.73,397.52 93.76,397.24 93.79,396.93 93.82,396.59 93.85,396.22 93.88,395.82 93.91,395.36 93.94,394.86 93.98,394.29 94.01,393.64 94.04,392.90 94.07,392.04 94.10,391.05 94.13,389.88 94.16,388.50 94.19,386.83 94.22,384.81 94.25,382.32 94.29,379.21 94.32,375.28 94.35,370.22 94.38,363.65 94.41,355.02 94.44,343.65 94.47,328.90 94.50,310.65 94.53,290.53 94.57,273.39 94.60,266.42 94.63,273.39 94.66,290.53 94.69,310.65 94.72,328.90 94.75,343.65 94.78,355.02 94.81,363.65 94.84,370.23 94.88,375.28 94.91,379.21 94.94,382.32 94.97,384.81 95.00,386.84 95.03,388.50 95.06,389.89 95.09,391.06 95.12,392.05 95.15,392.90 95.19,393.64 95.22,394.29 95.25,394.86 95.28,395.37 95.31,395.82 95.34,396.23 95.37,396.60 95.40,396.94 95.43,397.25 95.47,397.53 95.50,397.79 95.53,398.03 95.56,398.26 95.59,398.47 95.62,398.67 95.65,398.85 95.68,399.03 95.71,399.19 95.74,399.35 95.78,399.50 95.81,399.64 95.84,399.77 95.99,400.36 96.15,400.83 96.30,401.22 96.46,401.56 96.61,401.84 96.77,402.08 96.92,402.29 97.08,402.47 97.23,402.63 97.39,402.76 97.54,402.89 97.70,402.99 97.86,403.09 98.01,403.17 98.17,403.25 98.32,403.32 98.48,403.38 98.63,403.44 98.79,403.49 98.94,403.53 99.10,403.57 99.25,403.61 99.41,403.65 99.56,403.68 99.72,403.71 99.87,403.73 100.03,403.76 100.18,403.78 100.34,403.80 100.49,403.82 100.65,403.84 100.80,403.86 100.96,403.88 101.11,403.89 101.27,403.90 101.42,403.92 101.58,403.93 101.73,403.94 101.89,403.95 102.05,403.96 102.20,403.97 102.36,403.98 102.51,403.99 102.67,404.00 102.82,404.01 102.98,404.01 103.13,404.02 103.29,404.03 103.44,404.03 103.60,404.04 103.75,404.04 103.91,404.05 104.06,404.05 104.22,404.06 104.37,404.06 104.53,404.07 104.68,404.07 104.84,404.08 104.99,404.08 105.15,404.08 105.30,404.09 105.46,404.09 105.61,404.10 105.77,404.10 105.92,404.10 106.08,404.10 106.24,404.11 106.39,404.11 106.55,404.11 106.70,404.11 106.86,404.12 107.01,404.12 107.17,404.12 107.32,404.12 107.48,404.13 107.63,404.13 107.79,404.13 107.94,404.13 108.10,404.13 108.25,404.14 108.41,404.14 108.56,404.14 108.72,404.14 108.87,404.14 109.03,404.14 109.18,404.14 109.34,404.15 109.49,404.15 109.65,404.15 109.80,404.15 109.96,404.15 110.11,404.15 110.27,404.15 110.43,404.16 110.58,404.16 110.74,404.16 110.89,404.16 111.05,404.16 111.20,404.16 111.36,404.16 111.51,404.16 111.67,404.16 111.82,404.16 111.98,404.17 112.13,404.17 112.29,404.17 112.44,404.17 112.60,404.17 112.75,404.17 112.91,404.17 113.06,404.17 113.22,404.17 113.37,404.17 113.53,404.17 113.68,404.17 113.84,404.17 113.99,404.17 114.15,404.18 114.30,404.18 114.46,404.18 114.62,404.18 114.77,404.18 114.93,404.18 115.08,404.18 115.24,404.18 115.39,404.18 115.55,404.18 115.70,404.18 115.86,404.18 116.01,404.18 116.17,404.18 116.32,404.18 116.48,404.18 116.63,404.18 116.79,404.18 116.94,404.18 117.10,404.18 117.25,404.19 117.41,404.19 117.56,404.19 117.72,404.19 117.87,404.19 118.03,404.19 118.18,404.19 118.34,404.19 118.49,404.19 118.65,404.19 118.81,404.19 118.96,404.19 119.12,404.19 119.27,404.19 119.43,404.19 119.58,404.19 119.74,404.19 119.89,404.19 120.05,404.19 120.20,404.19 120.36,404.19 120.51,404.19 120.67,404.19 120.82,404.19 120.98,404.19 121.13,404.19 121.29,404.19 121.44,404.19 121.60,404.19 121.75,404.19 121.91,404.19 122.06,404.19 122.22,404.19 122.37,404.19 122.53,404.19 122.68,404.20 122.84,404.20 123.00,404.20 123.15,404.20 123.31,404.20 123.46,404.20 123.62,404.20 123.77,404.20 123.93,404.20 124.08,404.20 124.24,404.20 124.39,404.20 124.55,404.20 124.70,404.20 124.86,404.20 125.01,404.20 125.17,404.20 125.32,404.20 125.48,404.20 125.63,404.20 125.79,404.20 125.94,404.20 126.10,404.20 126.25,404.20 126.41,404.20 126.56,404.20 126.72,404.20 126.87,404.20 127.03,404.20 127.19,404.20 127.34,404.20 127.50,404.20 127.65,404.20 127.81,404.20 127.96,404.20 128.12,404.20 128.27,404.20 128.43,404.20 128.58,404.20 128.74,404.20 128.89,404.20 129.05,404.20 129.20,404.20 129.36,404.20 129.51,404.20 129.67,404.20 129.82,404.20 129.98,404.20 130.13,404.20 130.29,404.20 130.44,404.20 130.60,404.20 130.75,404.20 130.91,404.20 131.06,404.20 131.22,404.20 131.38,404.20 131.53,404.20 131.69,404.20 131.84,404.20 132.00,404.20 132.15,404.20 132.31,404.20 132.46,404.20 132.62,404.20 132.77,404.20 132.93,404.20 133.08,404.20 133.24,404.20 133.39,404.20 133.55,404.20 133.70,404.20 133.86,404.20 134.01,404.20 134.17,404.20 134.32,404.20 134.48,404.20 134.63,404.20 134.79,404.20 134.94,404.20 135.10,404.20 135.25,404.20 135.41,404.20 135.57,404.20 135.72,404.20 135.88,404.20 136.03,404.20 136.19,404.20 136.34,404.20 136.50,404.20 136.65,404.20 136.81,404.20 136.96,404.20 137.12,404.20 137.27,404.20 137.43,404.21 137.58,404.21 137.74,404.21 137.89,404.21 138.05,404.21 138.20,404.21 138.36,404.21 138.51,404.21 138.67,404.21 138.82,404.21 138.98,404.21 139.13,404.21 139.29,404.21 139.44,404.21 139.60,404.21 139.76,404.21 139.91,404.21 140.07,404.21 140.22,404.21 140.38,404.21 140.53,404.21 140.69,404.21 140.84,404.21 141.00,404.21 141.15,404.21 141.31,404.21 141.46,404.21 141.62,404.21 141.77,404.21 141.93,404.21 142.08,404.21 142.24,404.21 142.39,404.21 142.55,404.21 142.70,404.21 142.86,404.21 143.01,404.21 143.17,404.21 143.32,404.21 143.48,404.21 143.63,404.21 143.79,404.21 143.95,404.21 144.10,404.21 144.26,404.21 144.41,404.21 144.57,404.21 144.72,404.21 144.88,404.21 145.03,404.21 145.19,404.21 145.34,404.21 145.50,404.21 145.65,404.21 145.81,404.21 145.96,404.21 146.12,404.21 146.27,404.21 146.43,404.20 146.58,404.20 146.74,404.20 146.89,404.20 147.05,404.20 147.20,404.20 147.36,404.20 147.51,404.20 147.67,404.20 147.82,404.20 147.98,404.20 148.14,404.20 148.29,404.20 148.45,404.20 148.60,404.20 148.76,404.20 148.91,404.20 149.07,404.20 149.22,404.20 149.38,404.20 149.53,404.20 149.69,404.20 149.84,404.20 150.00,404.20 150.15,404.20 150.31,404.20 150.46,404.20 150.62,404.20 150.77,404.20 150.93,404.20 151.08,404.20 151.24,404.20 151.39,404.20 151.55,404.20 151.70,404.20 151.86,404.20 152.01,404.20 152.17,404.20 152.33,404.20 152.48,404.20 152.64,404.20 152.79,404.20 152.95,404.20 153.10,404.20 153.26,404.20 153.41,404.20 153.57,404.20 153.72,404.20 153.88,404.20 154.03,404.20 154.19,404.20 154.34,404.20 154.50,404.19 154.65,404.19 154.81,404.19 154.96,404.19 155.12,404.19 155.27,404.19 155.43,404.19 155.58,404.19 155.74,404.19 155.89,404.19 156.05,404.19 156.20,404.19 156.36,404.19 156.52,404.19 156.67,404.18 156.83,404.18 156.98,404.18 157.14,404.18 157.29,404.18 157.45,404.18 157.60,404.18 157.76,404.18 157.91,404.17 158.07,404.17 158.22,404.17 158.38,404.17 158.53,404.17 158.69,404.16 158.84,404.16 159.00,404.16 159.15,404.15 159.31,404.15 159.46,404.15 159.62,404.14 159.77,404.14 159.93,404.13 160.08,404.13 160.24,404.12 160.39,404.12 160.55,404.11 160.71,404.10 160.86,404.09 161.02,404.08 161.17,404.07 161.33,404.06 161.48,404.04 161.64,404.02 161.79,404.00 161.95,403.98 162.10,403.95 162.26,403.92 162.41,403.88 162.57,403.83 162.72,403.78 162.88,403.71 163.03,403.62 163.19,403.51 163.22,403.49 163.25,403.46 163.28,403.43 163.31,403.40 163.34,403.37 163.37,403.33 163.41,403.30 163.44,403.26 163.47,403.22 163.50,403.17 163.53,403.12 163.56,403.07 163.59,403.02 163.62,402.96 163.65,402.90 163.68,402.83 163.72,402.75 163.75,402.67 163.78,402.58 163.81,402.48 163.84,402.37 163.87,402.25 163.90,402.11 163.93,401.97 163.96,401.80 164.00,401.62 164.03,401.41 164.06,401.18 164.09,400.93 164.12,400.64 164.15,400.33 164.18,399.99 164.21,399.63 164.24,399.26 164.27,398.88 164.31,398.51 164.34,398.19 164.37,397.93 164.40,397.77 164.43,397.71 164.46,397.77 164.49,397.93 164.52,398.19 164.55,398.51 164.58,398.88 164.62,399.26 164.65,399.63 164.68,399.99 164.71,400.33 164.74,400.64 164.77,400.93 164.80,401.18 164.83,401.41 164.86,401.62 164.90,401.80 164.93,401.97 164.96,402.11 164.99,402.25 165.02,402.37 165.05,402.48 165.08,402.58 165.11,402.67 165.14,402.75 165.17,402.83 165.21,402.90 165.24,402.96 165.27,403.02 165.30,403.07 165.33,403.12 165.36,403.17 165.39,403.22 165.42,403.26 165.45,403.30 165.48,403.33 165.52,403.37 165.55,403.40 165.58,403.43 165.61,403.46 165.64,403.49 165.67,403.51 165.83,403.62 165.98,403.71 166.14,403.78 166.29,403.83 166.45,403.88 166.60,403.92 166.76,403.95 166.91,403.98 167.07,404.00 167.22,404.02 167.38,404.04 167.53,404.06 167.69,404.07 167.84,404.08 168.00,404.09 168.15,404.10 168.31,404.11 168.46,404.12 168.62,404.12 168.77,404.13 168.93,404.13 169.09,404.14 169.24,404.14 169.40,404.15 169.55,404.15 169.71,404.16 169.86,404.16 170.02,404.16 170.17,404.16 170.33,404.17 170.48,404.17 170.64,404.17 170.79,404.17 170.95,404.17 171.10,404.18 171.26,404.18 171.41,404.18 171.57,404.18 171.72,404.18 171.88,404.18 172.03,404.19 172.19,404.19 172.34,404.19 172.50,404.19 172.65,404.19 172.81,404.19 172.96,404.19 173.12,404.19 173.28,404.19 173.43,404.19 173.59,404.19 173.74,404.19 173.90,404.20 174.05,404.20 174.21,404.20 174.36,404.20 174.52,404.20 174.67,404.20 174.83,404.20 174.98,404.20 175.14,404.20 175.29,404.20 175.45,404.20 175.60,404.20 175.76,404.20 175.91,404.20 176.07,404.20 176.22,404.20 176.38,404.20 176.53,404.20 176.69,404.20 176.84,404.20 177.00,404.20 177.15,404.20 177.31,404.20 177.47,404.20 177.62,404.20 177.78,404.20 177.93,404.20 178.09,404.20 178.24,404.21 178.40,404.21 178.55,404.21 178.71,404.21 178.86,404.21 179.02,404.21 179.17,404.21 179.33,404.21 179.48,404.21 179.64,404.21 179.79,404.21 179.95,404.21 180.10,404.21 180.26,404.21 180.41,404.21 180.57,404.21 180.72,404.21 180.88,404.21 181.03,404.21 181.19,404.21 181.34,404.21 181.50,404.21 181.66,404.21 181.81,404.21 181.97,404.21 182.12,404.21 182.28,404.21 182.43,404.21 182.59,404.21 182.74,404.21 182.90,404.21 183.05,404.21 183.21,404.21 183.36,404.21 183.52,404.21 183.67,404.21 183.83,404.21 183.98,404.21 184.14,404.21 184.29,404.21 184.45,404.21 184.60,404.21 184.76,404.21 184.91,404.21 185.07,404.21 185.22,404.21 185.38,404.21 185.53,404.21 185.69,404.21 185.85,404.21 186.00,404.21 186.16,404.21 186.31,404.21 186.47,404.21 186.62,404.21 186.78,404.21 186.93,404.21 187.09,404.21 187.24,404.21 187.40,404.21 187.55,404.21 187.71,404.21 187.86,404.21 188.02,404.21 188.17,404.21 188.33,404.21 188.48,404.21 188.64,404.21 188.79,404.21 188.95,404.21 189.10,404.21 189.26,404.21 189.41,404.21 189.57,404.21 189.72,404.21 189.88,404.21 190.04,404.21 190.19,404.21 190.35,404.21 190.50,404.21 190.66,404.21 190.81,404.21 190.97,404.21 191.12,404.21 191.28,404.21 191.43,404.21 191.59,404.21 191.74,404.21 191.90,404.21 192.05,404.21 192.21,404.21 192.36,404.21 192.52,404.21 192.67,404.21 192.83,404.21 192.98,404.21 193.14,404.21 193.29,404.21 193.45,404.21 193.60,404.21 193.76,404.21 193.91,404.21 194.07,404.21 194.23,404.21 194.38,404.21 194.54,404.21 194.69,404.21 194.85,404.21 195.00,404.21 195.16,404.21 195.31,404.21 195.47,404.21 195.62,404.21 195.78,404.21 195.93,404.21 196.09,404.21 196.24,404.21 196.40,404.21 196.55,404.21 196.71,404.21 196.86,404.21 197.02,404.21 197.17,404.21 197.33,404.21 197.48,404.21 197.64,404.21 197.79,404.21 197.95,404.21 198.10,404.21 198.26,404.21 198.42,404.21 198.57,404.21 198.73,404.21 198.88,404.21 199.04,404.21 199.19,404.21 199.35,404.21 199.50,404.21 199.66,404.21 199.81,404.21 199.97,404.21 200.12,404.21 200.28,404.21 200.43,404.21 200.59,404.21 200.74,404.21 200.90,404.21 201.05,404.21 201.21,404.21 201.36,404.21 201.52,404.21 201.67,404.21 201.83,404.21 201.98,404.21 202.14,404.21 202.29,404.21 202.45,404.21 202.61,404.21 202.76,404.21 202.92,404.21 203.07,404.21 203.23,404.21 203.38,404.21 203.54,404.21 203.69,404.21 203.85,404.21 204.00,404.21 204.16,404.21 204.31,404.21 204.47,404.21 204.62,404.21 204.78,404.21 204.93,404.21 205.09,404.21 205.24,404.21 205.40,404.21 205.55,404.21 205.71,404.21 205.86,404.21 206.02,404.21 206.17,404.21 206.33,404.21 206.48,404.21 206.64,404.21 206.80,404.21 206.95,404.21 207.11,404.21 207.26,404.21 207.42,404.21 207.57,404.21 207.73,404.21 207.88,404.21 208.04,404.21 208.19,404.21 208.35,404.21 208.50,404.21 208.66,404.21 208.81,404.21 208.97,404.21 209.12,404.21 209.28,404.21 209.43,404.21 209.59,404.21 209.74,404.21 209.90,404.21 210.05,404.21 210.21,404.21 210.36,404.21 210.52,404.21 210.67,404.21 210.83,404.21 210.99,404.21 211.14,404.21 211.30,404.21 211.45,404.21 211.61,404.21 211.76,404.21 211.92,404.21 212.07,404.21 212.23,404.21 212.38,404.21 212.54,404.21 212.69,404.21 212.85,404.21 213.00,404.21 213.16,404.21 213.31,404.21 213.47,404.21 213.62,404.21 213.78,404.21 213.93,404.21 214.09,404.21 214.24,404.21 214.40,404.21 214.55,404.21 214.71,404.21 214.86,404.21 215.02,404.21 215.18,404.21 215.33,404.21 215.49,404.21 215.64,404.21 215.80,404.21 215.95,404.21 216.11,404.21 216.26,404.21 216.42,404.21 216.57,404.21 216.73,404.21 216.88,404.21 217.04,404.21 217.19,404.21 217.35,404.21 217.50,404.21 217.66,404.21 217.81,404.21 217.97,404.21 218.12,404.21 218.28,404.21 218.43,404.21 218.59,404.21 218.74,404.21 218.90,404.21 219.05,404.21 219.21,404.21 219.37,404.21 219.52,404.21 219.68,404.21 219.83,404.21 219.99,404.21 220.14,404.21 220.30,404.21 220.45,404.21 220.61,404.21 220.76,404.21 220.92,404.21 221.07,404.21 221.23,404.21 221.38,404.21 221.54,404.21 221.69,404.21 221.85,404.21 222.00,404.21 222.16,404.21 222.31,404.21 222.47,404.21 222.62,404.21 222.78,404.21 222.93,404.21 223.09,404.21 223.24,404.21 223.40,404.21 223.56,404.21 223.71,404.21 223.87,404.21 224.02,404.21 224.18,404.21 224.33,404.21 224.49,404.21 224.64,404.21 224.80,404.21 224.95,404.21 225.11,404.21 225.26,404.21 225.42,404.21 225.57,404.21 225.73,404.21 225.88,404.21 226.04,404.21 226.19,404.21 226.35,404.21 226.50,404.21 226.66,404.21 226.81,404.21 226.97,404.21 227.12,404.21 227.28,404.21 227.43,404.21 227.59,404.21 227.75,404.21 227.90,404.21 228.06,404.21 228.21,404.21 228.37,404.21 228.52,404.21 228.68,404.21 228.83,404.21 228.99,404.21 229.14,404.21 229.30,404.21 229.45,404.21 229.61,404.21 229.76,404.21 229.92,404.21 230.07,404.21 230.23,404.21 230.38,404.21 230.54,404.21 230.69,404.21 230.85,404.21 231.00,404.21 231.16,404.21 231.31,404.21 231.47,404.21 231.62,404.21 231.78,404.21 231.94,404.21 232.09,404.21 232.25,404.22 232.40,404.22 232.56,404.22 232.71,404.22 232.87,404.22 233.02,404.22 233.18,404.22 233.33,404.22 233.49,404.22 233.64,404.22 233.80,404.22 233.95,404.22 234.11,404.22 234.26,404.22 234.42,404.22 234.57,404.22 234.73,404.22 234.88,404.22 235.04,404.22 235.19,404.22 235.35,404.22 235.50,404.22 235.66,404.22 235.81,404.22 235.97,404.22 236.13,404.22 236.28,404.22 236.44,404.22 236.59,404.22 236.75,404.22 236.90,404.22 237.06,404.22 237.21,404.22 237.37,404.22 237.52,404.22 237.68,404.22 237.83,404.22 237.99,404.22 238.14,404.22 238.30,404.22 238.45,404.22 238.61,404.22 238.76,404.22 238.92,404.22 239.07,404.22 239.23,404.22 239.38,404.22 239.54,404.22 239.69,404.22 239.85,404.22 240.00,404.22 240.16,404.22 240.32,404.22 240.47,404.22 240.63,404.22 240.78,404.22 240.94,404.22 241.09,404.22 241.25,404.22 241.40,404.22 241.56,404.22 241.71,404.22 241.87,404.22 242.02,404.22 242.18,404.22 242.33,404.22 242.49,404.22 242.64,404.22 242.80,404.22 242.95,404.22 243.11,404.22 243.26,404.22 243.42,404.22 243.57,404.22 243.73,404.22 243.88,404.22 244.04,404.22 244.19,404.22 244.35,404.22 244.51,404.22 244.66,404.22 244.82,404.22 244.97,404.22 245.13,404.22 245.28,404.22 245.44,404.22 245.59,404.22 245.75,404.22 245.90,404.22 246.06,404.22 246.21,404.22 246.37,404.22 246.52,404.22 246.68,404.22 246.83,404.22 246.99,404.22 247.14,404.22 247.30,404.22 247.45,404.22 247.61,404.22 247.76,404.22 247.92,404.22 248.07,404.22 248.23,404.22 248.38,404.22 248.54,404.22 248.70,404.22 248.85,404.22 249.01,404.22 249.16,404.22 249.32,404.22 249.47,404.22 249.63,404.22 249.78,404.22 249.94,404.22 250.09,404.22 250.25,404.22 250.40,404.22 250.56,404.22 250.71,404.22 250.87,404.22 251.02,404.22 251.18,404.22 251.33,404.22 251.49,404.22 251.64,404.22 251.80,404.22 251.95,404.22 252.11,404.22 252.26,404.22 252.42,404.22 252.57,404.22 252.73,404.22 252.89,404.22 253.04,404.22 253.20,404.22 253.35,404.22 253.51,404.22 253.66,404.22 253.82,404.22 253.97,404.22 254.13,404.22 254.28,404.22 254.44,404.22 254.59,404.22 254.75,404.22 254.90,404.22 255.06,404.22 255.21,404.22 255.37,404.22 255.52,404.22 255.68,404.22 255.83,404.22 255.99,404.22 256.14,404.22 256.30,404.22 256.45,404.22 256.61,404.22 256.76,404.22 256.92,404.22 257.08,404.22 257.23,404.22 257.39,404.22 257.54,404.22" fill="none" stroke="#000" stroke-width="1.05" stroke-linejoin="miter"/>
<rect x="55.80" y="247.90" width="209.50" height="168.60" fill="none" stroke="#333" stroke-width="0.9"/>
<path d="M63.56 416.50v-3.2M63.56 247.90v3.2M94.60 416.50v-3.2M94.60 247.90v3.2M125.63 416.50v-3.2M125.63 247.90v3.2M156.67 416.50v-3.2M156.67 247.90v3.2M187.71 416.50v-3.2M187.71 247.90v3.2M218.74 416.50v-3.2M218.74 247.90v3.2M249.78 416.50v-3.2M249.78 247.90v3.2" stroke="#444" stroke-width="0.85" fill="none"/>
<path d="M55.80 259.94h3.2M265.30 259.94h-3.2M55.80 284.03h3.2M265.30 284.03h-3.2M55.80 308.11h3.2M265.30 308.11h-3.2M55.80 332.20h3.2M265.30 332.20h-3.2M55.80 356.29h3.2M265.30 356.29h-3.2M55.80 380.37h3.2M265.30 380.37h-3.2M55.80 404.46h3.2M265.30 404.46h-3.2" stroke="#444" stroke-width="0.85" fill="none"/>
<text x="63.56" y="429.30" font-size="11.3" text-anchor="middle" stroke="#0d0d0d" stroke-width="0.12">40</text>
<text x="94.60" y="429.30" font-size="11.3" text-anchor="middle" stroke="#0d0d0d" stroke-width="0.12">60</text>
<text x="125.63" y="429.30" font-size="11.3" text-anchor="middle" stroke="#0d0d0d" stroke-width="0.12">80</text>
<text x="156.67" y="429.30" font-size="11.3" text-anchor="middle" stroke="#0d0d0d" stroke-width="0.12">100</text>
<text x="187.71" y="429.30" font-size="11.3" text-anchor="middle" stroke="#0d0d0d" stroke-width="0.12">120</text>
<text x="218.74" y="429.30" font-size="11.3" text-anchor="middle" stroke="#0d0d0d" stroke-width="0.12">140</text>
<text x="249.78" y="429.30" font-size="11.3" text-anchor="middle" stroke="#0d0d0d" stroke-width="0.12">160</text>
<text x="52.40" y="263.84" font-size="11.3" text-anchor="end" stroke="#0d0d0d" stroke-width="0.12">0.6</text>
<text x="52.40" y="287.93" font-size="11.3" text-anchor="end" stroke="#0d0d0d" stroke-width="0.12">0.5</text>
<text x="52.40" y="312.01" font-size="11.3" text-anchor="end" stroke="#0d0d0d" stroke-width="0.12">0.4</text>
<text x="52.40" y="336.10" font-size="11.3" text-anchor="end" stroke="#0d0d0d" stroke-width="0.12">0.3</text>
<text x="52.40" y="360.19" font-size="11.3" text-anchor="end" stroke="#0d0d0d" stroke-width="0.12">0.2</text>
<text x="52.40" y="384.27" font-size="11.3" text-anchor="end" stroke="#0d0d0d" stroke-width="0.12">0.1</text>
<text x="52.40" y="408.36" font-size="11.3" text-anchor="end" stroke="#0d0d0d" stroke-width="0.12">0.0</text>
<text x="160.90" y="448.20" font-size="12.7" text-anchor="middle" stroke="#0d0d0d" stroke-width="0.12">Frequency (Hz)</text>
<text transform="translate(25.60 327.70) rotate(-90)" font-size="12.7" text-anchor="middle" stroke="#0d0d0d" stroke-width="0.12">Amplitude (V)</text>
<text x="3.20" y="243.30" font-size="18.0" text-anchor="start" font-weight="bold" stroke="#0d0d0d" stroke-width="0.22">(c)</text>
<line x1="190.00" y1="271.00" x2="217.70" y2="271.00" stroke="#0a0a0a" stroke-width="1.4"/>
<text x="221.90" y="274.40" font-size="9.4" text-anchor="start" font-weight="bold" stroke="#0d0d0d" stroke-width="0.22">Low</text>
<text x="255.40" y="306.90" font-size="10.5" text-anchor="end" font-weight="bold" stroke="#0d0d0d" stroke-width="0.22">Changing input speed</text>
<text x="255.40" y="320.50" font-size="10.5" text-anchor="end" font-weight="bold" stroke="#0d0d0d" stroke-width="0.22">(DC motor)</text>
<text x="255.40" y="340.80" font-size="10.5" text-anchor="end" font-weight="bold" stroke="#0d0d0d" stroke-width="0.22">DC motor input: 0.82 V</text>
<text x="118.00" y="371.70" font-size="10.5" text-anchor="start" font-weight="bold" stroke="#0d0d0d" stroke-width="0.22">52.5 Hz</text>
<line x1="110.60" y1="372.00" x2="90.21" y2="383.92" stroke="#111" stroke-width="1.1"/>
<polygon points="84.60,387.20 88.75,381.42 91.68,386.42" fill="#111"/>
<polyline points="343.46,404.20 343.61,404.20 343.77,404.20 343.92,404.20 344.08,404.20 344.24,404.20 344.39,404.20 344.55,404.20 344.70,404.20 344.86,404.20 345.01,404.20 345.17,404.20 345.32,404.20 345.48,404.20 345.63,404.20 345.79,404.20 345.94,404.20 346.10,404.20 346.25,404.20 346.41,404.20 346.56,404.20 346.72,404.20 346.87,404.20 347.03,404.20 347.18,404.20 347.34,404.20 347.49,404.20 347.65,404.20 347.80,404.20 347.96,404.20 348.11,404.20 348.27,404.20 348.43,404.20 348.58,404.19 348.74,404.19 348.89,404.19 349.05,404.19 349.20,404.19 349.36,404.19 349.51,404.19 349.67,404.19 349.82,404.19 349.98,404.19 350.13,404.19 350.29,404.19 350.44,404.19 350.60,404.19 350.75,404.19 350.91,404.19 351.06,404.19 351.22,404.19 351.37,404.19 351.53,404.19 351.68,404.19 351.84,404.19 351.99,404.19 352.15,404.19 352.30,404.19 352.46,404.19 352.62,404.19 352.77,404.19 352.93,404.19 353.08,404.19 353.24,404.18 353.39,404.18 353.55,404.18 353.70,404.18 353.86,404.18 354.01,404.18 354.17,404.18 354.32,404.18 354.48,404.18 354.63,404.18 354.79,404.18 354.94,404.18 355.10,404.18 355.25,404.18 355.41,404.18 355.56,404.18 355.72,404.18 355.87,404.18 356.03,404.17 356.18,404.17 356.34,404.17 356.49,404.17 356.65,404.17 356.81,404.17 356.96,404.17 357.12,404.17 357.27,404.17 357.43,404.17 357.58,404.17 357.74,404.17 357.89,404.16 358.05,404.16 358.20,404.16 358.36,404.16 358.51,404.16 358.67,404.16 358.82,404.16 358.98,404.16 359.13,404.16 359.29,404.15 359.44,404.15 359.60,404.15 359.75,404.15 359.91,404.15 360.06,404.15 360.22,404.15 360.37,404.15 360.53,404.14 360.68,404.14 360.84,404.14 361.00,404.14 361.15,404.14 361.31,404.14 361.46,404.13 361.62,404.13 361.77,404.13 361.93,404.13 362.08,404.12 362.24,404.12 362.39,404.12 362.55,404.12 362.70,404.12 362.86,404.11 363.01,404.11 363.17,404.11 363.32,404.10 363.48,404.10 363.63,404.10 363.79,404.09 363.94,404.09 364.10,404.09 364.25,404.08 364.41,404.08 364.56,404.07 364.72,404.07 364.87,404.07 365.03,404.06 365.19,404.06 365.34,404.05 365.50,404.04 365.65,404.04 365.81,404.03 365.96,404.03 366.12,404.02 366.27,404.01 366.43,404.00 366.58,404.00 366.74,403.99 366.89,403.98 367.05,403.97 367.20,403.96 367.36,403.95 367.51,403.94 367.67,403.92 367.82,403.91 367.98,403.90 368.13,403.88 368.29,403.87 368.44,403.85 368.60,403.83 368.75,403.81 368.91,403.79 369.06,403.76 369.22,403.74 369.38,403.71 369.53,403.68 369.69,403.65 369.84,403.62 370.00,403.58 370.15,403.54 370.31,403.49 370.46,403.44 370.62,403.38 370.77,403.32 370.93,403.25 371.08,403.17 371.24,403.09 371.39,402.99 371.55,402.88 371.70,402.76 371.86,402.62 372.01,402.46 372.17,402.28 372.32,402.07 372.48,401.82 372.63,401.54 372.79,401.20 372.94,400.81 373.10,400.33 373.25,399.74 373.29,399.60 373.32,399.46 373.35,399.31 373.38,399.16 373.41,398.99 373.44,398.82 373.47,398.63 373.50,398.43 373.53,398.22 373.57,398.00 373.60,397.75 373.63,397.49 373.66,397.21 373.69,396.90 373.72,396.57 373.75,396.20 373.78,395.79 373.81,395.34 373.84,394.84 373.88,394.27 373.91,393.63 373.94,392.89 373.97,392.04 374.00,391.06 374.03,389.90 374.06,388.53 374.09,386.89 374.12,384.89 374.15,382.43 374.19,379.36 374.22,375.48 374.25,370.50 374.28,364.03 374.31,355.52 374.34,344.33 374.37,329.80 374.40,311.84 374.42,301.95 374.43,292.03 374.45,282.79 374.47,275.16 374.48,270.07 374.50,268.28 374.51,270.05 374.53,275.12 374.54,282.74 374.56,291.96 374.57,301.86 374.59,311.73 374.60,321.08 374.62,329.66 374.64,337.35 374.65,344.14 374.67,350.10 374.68,355.30 374.70,359.82 374.71,363.76 374.73,367.20 374.74,370.19 374.76,372.82 374.78,375.13 374.79,377.16 374.81,378.96 374.82,380.55 374.84,381.97 374.85,383.24 374.87,384.37 374.88,385.39 374.90,386.31 374.92,387.13 374.93,387.88 374.95,388.56 374.96,389.17 374.98,389.73 374.99,390.24 375.01,390.70 375.02,391.12 375.04,391.51 375.05,391.86 375.07,392.17 375.09,392.46 375.10,392.72 375.12,392.96 375.13,393.17 375.15,393.35 375.16,393.52 375.18,393.66 375.19,393.78 375.21,393.87 375.23,393.95 375.24,394.00 375.26,394.03 375.27,394.03 375.29,394.01 375.30,393.96 375.32,393.88 375.33,393.76 375.35,393.61 375.37,393.42 375.38,393.19 375.40,392.91 375.41,392.57 375.43,392.17 375.44,391.70 375.46,391.16 375.47,390.53 375.49,389.81 375.50,389.00 375.52,388.08 375.54,387.07 375.55,385.98 375.57,384.83 375.58,383.67 375.60,382.55 375.61,381.57 375.63,380.80 375.64,380.32 375.66,380.21 375.68,380.47 375.69,381.09 375.71,382.01 375.72,383.14 375.74,384.40 375.75,385.71 375.78,388.26 375.82,390.49 375.85,392.34 375.88,393.84 375.89,394.47 375.91,395.04 375.94,396.01 375.97,396.79 376.00,397.44 376.03,397.98 376.05,398.21 376.06,398.43 376.09,398.81 376.13,399.15 376.16,399.44 376.19,399.69 376.20,399.81 376.22,399.92 376.25,400.12 376.28,400.30 376.31,400.46 376.34,400.61 376.36,400.68 376.37,400.75 376.41,400.88 376.44,400.99 376.47,401.10 376.50,401.20 376.51,401.25 376.53,401.30 376.56,401.39 376.59,401.47 376.62,401.55 376.65,401.63 376.67,401.66 376.68,401.70 376.72,401.77 376.75,401.83 376.78,401.89 376.81,401.95 376.82,401.98 376.84,402.01 376.87,402.06 376.90,402.11 376.98,402.23 377.13,402.44 377.29,402.62 377.44,402.77 377.60,402.89 377.76,403.01 377.91,403.11 378.07,403.19 378.22,403.27 378.38,403.34 378.53,403.40 378.69,403.46 378.84,403.51 379.00,403.55 379.15,403.59 379.31,403.63 379.46,403.66 379.62,403.69 379.77,403.72 379.93,403.75 380.08,403.77 380.24,403.80 380.39,403.82 380.55,403.84 380.70,403.86 380.86,403.87 381.01,403.89 381.17,403.90 381.32,403.92 381.48,403.93 381.63,403.94 381.79,403.95 381.95,403.96 382.10,403.97 382.26,403.98 382.41,403.99 382.57,404.00 382.72,404.01 382.88,404.02 383.03,404.02 383.19,404.03 383.34,404.04 383.50,404.04 383.65,404.05 383.81,404.05 383.96,404.06 384.12,404.06 384.27,404.07 384.43,404.07 384.58,404.08 384.74,404.08 384.89,404.08 385.05,404.09 385.20,404.09 385.36,404.10 385.51,404.10 385.67,404.10 385.82,404.11 385.98,404.11 386.14,404.11 386.29,404.11 386.45,404.12 386.60,404.12 386.76,404.12 386.91,404.12 387.07,404.13 387.22,404.13 387.38,404.13 387.53,404.13 387.69,404.13 387.84,404.14 388.00,404.14 388.15,404.14 388.31,404.14 388.46,404.14 388.62,404.14 388.77,404.15 388.93,404.15 389.08,404.15 389.24,404.15 389.39,404.15 389.55,404.15 389.70,404.15 389.86,404.16 390.01,404.16 390.17,404.16 390.33,404.16 390.48,404.16 390.64,404.16 390.79,404.16 390.95,404.16 391.10,404.16 391.26,404.17 391.41,404.17 391.57,404.17 391.72,404.17 391.88,404.17 392.03,404.17 392.19,404.17 392.34,404.17 392.50,404.17 392.65,404.17 392.81,404.17 392.96,404.17 393.12,404.17 393.27,404.18 393.43,404.18 393.58,404.18 393.74,404.18 393.89,404.18 394.05,404.18 394.20,404.18 394.36,404.18 394.52,404.18 394.67,404.18 394.83,404.18 394.98,404.18 395.14,404.18 395.29,404.18 395.45,404.18 395.60,404.18 395.76,404.18 395.91,404.18 396.07,404.19 396.22,404.19 396.38,404.19 396.53,404.19 396.69,404.19 396.84,404.19 397.00,404.19 397.15,404.19 397.31,404.19 397.46,404.19 397.62,404.19 397.77,404.19 397.93,404.19 398.08,404.19 398.24,404.19 398.39,404.19 398.55,404.19 398.71,404.19 398.86,404.19 399.02,404.19 399.17,404.19 399.33,404.19 399.48,404.19 399.64,404.19 399.79,404.19 399.95,404.19 400.10,404.19 400.26,404.19 400.41,404.19 400.57,404.19 400.72,404.20 400.88,404.20 401.03,404.20 401.19,404.20 401.34,404.20 401.50,404.20 401.65,404.20 401.81,404.20 401.96,404.20 402.12,404.20 402.27,404.20 402.43,404.20 402.58,404.20 402.74,404.20 402.90,404.20 403.05,404.20 403.21,404.20 403.36,404.20 403.52,404.20 403.67,404.20 403.83,404.20 403.98,404.20 404.14,404.20 404.29,404.20 404.45,404.20 404.60,404.20 404.76,404.20 404.91,404.20 405.07,404.20 405.22,404.20 405.38,404.20 405.53,404.20 405.69,404.20 405.84,404.20 406.00,404.20 406.15,404.20 406.31,404.20 406.46,404.20 406.62,404.20 406.77,404.20 406.93,404.20 407.09,404.20 407.24,404.20 407.40,404.20 407.55,404.20 407.71,404.20 407.86,404.20 408.02,404.20 408.17,404.20 408.33,404.20 408.48,404.20 408.64,404.20 408.79,404.20 408.95,404.20 409.10,404.20 409.26,404.20 409.41,404.20 409.57,404.20 409.72,404.20 409.88,404.20 410.03,404.20 410.19,404.20 410.34,404.20 410.50,404.20 410.65,404.21 410.81,404.21 410.96,404.21 411.12,404.21 411.28,404.21 411.43,404.21 411.59,404.21 411.74,404.21 411.90,404.21 412.05,404.21 412.21,404.21 412.36,404.21 412.52,404.21 412.67,404.21 412.83,404.21 412.98,404.21 413.14,404.21 413.29,404.21 413.45,404.21 413.60,404.21 413.76,404.21 413.91,404.21 414.07,404.21 414.22,404.21 414.38,404.21 414.53,404.21 414.69,404.21 414.84,404.21 415.00,404.21 415.15,404.21 415.31,404.21 415.47,404.21 415.62,404.21 415.78,404.21 415.93,404.21 416.09,404.21 416.24,404.21 416.40,404.21 416.55,404.21 416.71,404.21 416.86,404.21 417.02,404.21 417.17,404.21 417.33,404.21 417.48,404.21 417.64,404.21 417.79,404.21 417.95,404.21 418.10,404.21 418.26,404.21 418.41,404.21 418.57,404.21 418.72,404.21 418.88,404.21 419.03,404.21 419.19,404.21 419.34,404.21 419.50,404.21 419.66,404.21 419.81,404.21 419.97,404.21 420.12,404.21 420.28,404.21 420.43,404.21 420.59,404.21 420.74,404.21 420.90,404.21 421.05,404.21 421.21,404.21 421.36,404.21 421.52,404.21 421.67,404.21 421.83,404.21 421.98,404.21 422.14,404.21 422.29,404.21 422.45,404.21 422.60,404.21 422.76,404.21 422.91,404.21 423.07,404.21 423.22,404.21 423.38,404.21 423.53,404.21 423.69,404.21 423.85,404.21 424.00,404.21 424.16,404.21 424.31,404.21 424.47,404.21 424.62,404.21 424.78,404.21 424.93,404.21 425.09,404.21 425.24,404.21 425.40,404.21 425.55,404.21 425.71,404.21 425.86,404.21 426.02,404.21 426.17,404.21 426.33,404.21 426.48,404.21 426.64,404.21 426.79,404.21 426.95,404.21 427.10,404.21 427.26,404.21 427.41,404.21 427.57,404.21 427.72,404.21 427.88,404.21 428.04,404.21 428.19,404.21 428.35,404.21 428.50,404.21 428.66,404.21 428.81,404.21 428.97,404.21 429.12,404.21 429.28,404.21 429.43,404.21 429.59,404.21 429.74,404.21 429.90,404.21 430.05,404.21 430.21,404.21 430.36,404.21 430.52,404.21 430.67,404.21 430.83,404.21 430.98,404.21 431.14,404.21 431.29,404.21 431.45,404.21 431.60,404.21 431.76,404.21 431.91,404.21 432.07,404.21 432.23,404.21 432.38,404.21 432.54,404.21 432.69,404.21 432.85,404.21 433.00,404.21 433.16,404.21 433.31,404.21 433.47,404.21 433.62,404.21 433.78,404.21 433.93,404.21 434.09,404.21 434.24,404.21 434.40,404.21 434.55,404.21 434.71,404.21 434.86,404.21 435.02,404.21 435.17,404.21 435.33,404.21 435.48,404.21 435.64,404.21 435.79,404.21 435.95,404.21 436.10,404.21 436.26,404.21 436.42,404.21 436.57,404.21 436.73,404.21 436.88,404.21 437.04,404.21 437.19,404.21 437.35,404.21 437.50,404.21 437.66,404.21 437.81,404.21 437.97,404.21 438.12,404.21 438.28,404.21 438.43,404.21 438.59,404.21 438.74,404.21 438.90,404.21 439.05,404.21 439.21,404.21 439.36,404.21 439.52,404.21 439.67,404.21 439.83,404.21 439.98,404.21 440.14,404.21 440.29,404.21 440.45,404.21 440.61,404.21 440.76,404.21 440.92,404.21 441.07,404.21 441.23,404.21 441.38,404.21 441.54,404.21 441.69,404.21 441.85,404.21 442.00,404.21 442.16,404.21 442.31,404.21 442.47,404.21 442.62,404.21 442.78,404.21 442.93,404.21 443.09,404.21 443.24,404.21 443.40,404.21 443.55,404.21 443.71,404.21 443.86,404.21 444.02,404.21 444.17,404.21 444.33,404.21 444.48,404.21 444.64,404.21 444.80,404.21 444.95,404.21 445.11,404.21 445.26,404.21 445.42,404.21 445.57,404.21 445.73,404.21 445.88,404.21 446.04,404.21 446.19,404.21 446.35,404.21 446.50,404.21 446.66,404.21 446.81,404.21 446.97,404.21 447.12,404.21 447.28,404.21 447.43,404.21 447.59,404.21 447.74,404.21 447.90,404.21 448.05,404.21 448.21,404.21 448.36,404.21 448.52,404.21 448.67,404.21 448.83,404.21 448.99,404.21 449.14,404.21 449.30,404.21 449.45,404.21 449.61,404.21 449.76,404.21 449.92,404.21 450.07,404.21 450.23,404.21 450.38,404.21 450.54,404.21 450.69,404.21 450.85,404.21 451.00,404.21 451.16,404.21 451.31,404.21 451.47,404.21 451.62,404.21 451.78,404.21 451.93,404.21 452.09,404.21 452.24,404.21 452.40,404.21 452.55,404.21 452.71,404.21 452.86,404.21 453.02,404.21 453.18,404.21 453.33,404.21 453.49,404.21 453.64,404.21 453.80,404.21 453.95,404.21 454.11,404.21 454.26,404.21 454.42,404.21 454.57,404.21 454.73,404.21 454.88,404.21 455.04,404.21 455.19,404.21 455.35,404.21 455.50,404.21 455.66,404.21 455.81,404.21 455.97,404.21 456.12,404.21 456.28,404.21 456.43,404.21 456.59,404.21 456.74,404.21 456.90,404.21 457.05,404.21 457.21,404.21 457.37,404.21 457.52,404.21 457.68,404.21 457.83,404.21 457.99,404.21 458.14,404.21 458.30,404.21 458.45,404.21 458.61,404.21 458.76,404.21 458.92,404.21 459.07,404.21 459.23,404.21 459.38,404.21 459.54,404.20 459.69,404.20 459.85,404.20 460.00,404.20 460.16,404.20 460.31,404.20 460.47,404.20 460.62,404.20 460.78,404.20 460.93,404.20 461.09,404.20 461.24,404.20 461.40,404.20 461.56,404.20 461.71,404.20 461.87,404.20 462.02,404.20 462.18,404.20 462.33,404.20 462.49,404.20 462.64,404.20 462.80,404.19 462.95,404.19 463.11,404.19 463.26,404.19 463.42,404.19 463.57,404.19 463.73,404.19 463.88,404.19 464.04,404.19 464.19,404.18 464.35,404.18 464.50,404.18 464.66,404.18 464.81,404.18 464.97,404.17 465.12,404.17 465.28,404.17 465.43,404.17 465.59,404.16 465.75,404.16 465.90,404.16 466.06,404.15 466.21,404.15 466.37,404.14 466.52,404.13 466.68,404.13 466.83,404.12 466.99,404.11 467.14,404.10 467.30,404.09 467.45,404.07 467.61,404.06 467.76,404.04 467.92,404.02 468.07,403.99 468.23,403.96 468.38,403.92 468.54,403.87 468.69,403.80 468.72,403.79 468.76,403.77 468.79,403.76 468.82,403.74 468.85,403.72 468.88,403.70 468.91,403.68 468.94,403.66 468.97,403.64 469.00,403.62 469.04,403.59 469.07,403.56 469.10,403.54 469.13,403.50 469.16,403.47 469.19,403.43 469.22,403.39 469.25,403.35 469.28,403.30 469.31,403.25 469.35,403.19 469.38,403.13 469.41,403.06 469.44,402.99 469.47,402.90 469.50,402.81 469.53,402.70 469.56,402.59 469.59,402.46 469.62,402.32 469.66,402.16 469.69,401.99 469.72,401.81 469.75,401.62 469.78,401.43 469.81,401.25 469.84,401.08 469.87,400.96 469.90,400.87 469.94,400.84 469.97,400.87 470.00,400.96 470.03,401.08 470.06,401.25 470.09,401.43 470.12,401.62 470.15,401.81 470.18,401.99 470.21,402.16 470.25,402.32 470.28,402.46 470.31,402.59 470.34,402.70 470.37,402.81 470.40,402.90 470.43,402.99 470.46,403.06 470.49,403.13 470.52,403.19 470.56,403.25 470.59,403.30 470.62,403.35 470.65,403.39 470.68,403.43 470.71,403.47 470.74,403.50 470.77,403.54 470.80,403.56 470.84,403.59 470.87,403.62 470.90,403.64 470.93,403.66 470.96,403.69 470.99,403.70 471.02,403.72 471.05,403.74 471.08,403.76 471.11,403.77 471.15,403.79 471.18,403.80 471.33,403.87 471.49,403.92 471.64,403.96 471.80,403.99 471.95,404.02 472.11,404.04 472.26,404.06 472.42,404.07 472.57,404.09 472.73,404.10 472.88,404.11 473.04,404.12 473.19,404.13 473.35,404.13 473.50,404.14 473.66,404.15 473.81,404.15 473.97,404.16 474.13,404.16 474.28,404.16 474.44,404.17 474.59,404.17 474.75,404.17 474.90,404.18 475.06,404.18 475.21,404.18 475.37,404.18 475.52,404.18 475.68,404.18 475.83,404.19 475.99,404.19 476.14,404.19 476.30,404.19 476.45,404.19 476.61,404.19 476.76,404.19 476.92,404.19 477.07,404.20 477.23,404.20 477.38,404.20 477.54,404.20 477.69,404.20 477.85,404.20 478.00,404.20 478.16,404.20 478.32,404.20 478.47,404.20 478.63,404.20 478.78,404.20 478.94,404.20 479.09,404.20 479.25,404.20 479.40,404.20 479.56,404.20 479.71,404.20 479.87,404.20 480.02,404.21 480.18,404.21 480.33,404.21 480.49,404.21 480.64,404.21 480.80,404.21 480.95,404.21 481.11,404.21 481.26,404.21 481.42,404.21 481.57,404.21 481.73,404.21 481.88,404.21 482.04,404.21 482.19,404.21 482.35,404.21 482.51,404.21 482.66,404.21 482.82,404.21 482.97,404.21 483.13,404.21 483.28,404.21 483.44,404.21 483.59,404.21 483.75,404.21 483.90,404.21 484.06,404.21 484.21,404.21 484.37,404.21 484.52,404.21 484.68,404.21 484.83,404.21 484.99,404.21 485.14,404.21 485.30,404.21 485.45,404.21 485.61,404.21 485.76,404.21 485.92,404.21 486.07,404.21 486.23,404.21 486.38,404.21 486.54,404.21 486.70,404.21 486.85,404.21 487.01,404.21 487.16,404.21 487.32,404.21 487.47,404.21 487.63,404.21 487.78,404.21 487.94,404.21 488.09,404.21 488.25,404.21 488.40,404.21 488.56,404.21 488.71,404.21 488.87,404.21 489.02,404.21 489.18,404.21 489.33,404.21 489.49,404.21 489.64,404.21 489.80,404.21 489.95,404.21 490.11,404.21 490.26,404.21 490.42,404.21 490.57,404.21 490.73,404.21 490.89,404.21 491.04,404.21 491.20,404.21 491.35,404.21 491.51,404.21 491.66,404.21 491.82,404.21 491.97,404.21 492.13,404.21 492.28,404.21 492.44,404.21 492.59,404.21 492.75,404.21 492.90,404.21 493.06,404.21 493.21,404.21 493.37,404.21 493.52,404.21 493.68,404.21 493.83,404.21 493.99,404.21 494.14,404.21 494.30,404.21 494.45,404.21 494.61,404.21 494.76,404.21 494.92,404.21 495.08,404.21 495.23,404.21 495.39,404.21 495.54,404.21 495.70,404.21 495.85,404.21 496.01,404.21 496.16,404.21 496.32,404.21 496.47,404.21 496.63,404.21 496.78,404.21 496.94,404.21 497.09,404.21 497.25,404.21 497.40,404.21 497.56,404.21 497.71,404.21 497.87,404.21 498.02,404.21 498.18,404.21 498.33,404.21 498.49,404.21 498.64,404.21 498.80,404.21 498.95,404.21 499.11,404.21 499.27,404.21 499.42,404.21 499.58,404.21 499.73,404.21 499.89,404.21 500.04,404.21 500.20,404.21 500.35,404.21 500.51,404.21 500.66,404.21 500.82,404.21 500.97,404.21 501.13,404.21 501.28,404.21 501.44,404.21 501.59,404.21 501.75,404.21 501.90,404.21 502.06,404.21 502.21,404.21 502.37,404.21 502.52,404.21 502.68,404.21 502.83,404.21 502.99,404.21 503.14,404.21 503.30,404.21 503.46,404.21 503.61,404.21 503.77,404.21 503.92,404.21 504.08,404.21 504.23,404.21 504.39,404.21 504.54,404.21 504.70,404.21 504.85,404.21 505.01,404.21 505.16,404.21 505.32,404.21 505.47,404.21 505.63,404.21 505.78,404.21 505.94,404.21 506.09,404.21 506.25,404.21 506.40,404.21 506.56,404.21 506.71,404.21 506.87,404.21 507.02,404.21 507.18,404.21 507.33,404.21 507.49,404.21 507.65,404.21 507.80,404.21 507.96,404.21 508.11,404.21 508.27,404.21 508.42,404.21 508.58,404.21 508.73,404.21 508.89,404.21 509.04,404.21 509.20,404.21 509.35,404.21 509.51,404.21 509.66,404.21 509.82,404.21 509.97,404.21 510.13,404.21 510.28,404.21 510.44,404.21 510.59,404.21 510.75,404.21 510.90,404.21 511.06,404.21 511.21,404.21 511.37,404.21 511.52,404.21 511.68,404.21 511.84,404.21 511.99,404.21 512.15,404.21 512.30,404.21 512.46,404.21 512.61,404.21 512.77,404.21 512.92,404.21 513.08,404.21 513.23,404.21 513.39,404.22 513.54,404.22 513.70,404.22 513.85,404.22 514.01,404.22 514.16,404.22 514.32,404.22 514.47,404.22 514.63,404.22 514.78,404.22 514.94,404.22 515.09,404.22 515.25,404.22 515.40,404.22 515.56,404.22 515.71,404.22 515.87,404.22 516.03,404.22 516.18,404.22 516.34,404.22 516.49,404.22 516.65,404.22 516.80,404.22 516.96,404.22 517.11,404.22 517.27,404.22 517.42,404.22 517.58,404.22 517.73,404.22 517.89,404.22 518.04,404.22 518.20,404.22 518.35,404.22 518.51,404.22 518.66,404.22 518.82,404.22 518.97,404.22 519.13,404.22 519.28,404.22 519.44,404.22 519.59,404.22 519.75,404.22 519.90,404.22 520.06,404.22 520.22,404.22 520.37,404.22 520.53,404.22 520.68,404.22 520.84,404.22 520.99,404.22 521.15,404.22 521.30,404.22 521.46,404.22 521.61,404.22 521.77,404.22 521.92,404.22 522.08,404.22 522.23,404.22 522.39,404.22 522.54,404.22 522.70,404.22 522.85,404.22 523.01,404.22 523.16,404.22 523.32,404.22 523.47,404.22 523.63,404.22 523.78,404.22 523.94,404.22 524.09,404.22 524.25,404.22 524.41,404.22 524.56,404.22 524.72,404.22 524.87,404.22 525.03,404.22 525.18,404.22 525.34,404.22 525.49,404.22 525.65,404.22 525.80,404.22 525.96,404.22 526.11,404.22 526.27,404.22 526.42,404.22 526.58,404.22 526.73,404.22 526.89,404.22 527.04,404.22 527.20,404.22 527.35,404.22 527.51,404.22 527.66,404.22 527.82,404.22 527.97,404.22 528.13,404.22 528.28,404.22 528.44,404.22 528.60,404.22 528.75,404.22 528.91,404.22 529.06,404.22 529.22,404.22 529.37,404.22 529.53,404.22 529.68,404.22 529.84,404.22 529.99,404.22 530.15,404.22 530.30,404.22 530.46,404.22 530.61,404.22 530.77,404.22 530.92,404.22 531.08,404.22 531.23,404.22 531.39,404.22 531.54,404.22 531.70,404.22 531.85,404.22 532.01,404.22 532.16,404.22 532.32,404.22 532.47,404.22 532.63,404.22 532.79,404.22 532.94,404.22 533.10,404.22 533.25,404.22 533.41,404.22 533.56,404.22 533.72,404.22 533.87,404.22 534.03,404.22 534.18,404.22 534.34,404.22 534.49,404.22 534.65,404.22 534.80,404.22 534.96,404.22 535.11,404.22 535.27,404.22 535.42,404.22 535.58,404.22 535.73,404.22 535.89,404.22 536.04,404.22 536.20,404.22 536.35,404.22 536.51,404.22 536.66,404.22 536.82,404.22 536.98,404.22 537.13,404.22 537.29,404.22 537.44,404.22" fill="none" stroke="#000" stroke-width="1.05" stroke-linejoin="miter"/>
<rect x="335.70" y="247.90" width="209.50" height="168.60" fill="none" stroke="#333" stroke-width="0.9"/>
<path d="M343.46 416.50v-3.2M343.46 247.90v3.2M374.50 416.50v-3.2M374.50 247.90v3.2M405.53 416.50v-3.2M405.53 247.90v3.2M436.57 416.50v-3.2M436.57 247.90v3.2M467.61 416.50v-3.2M467.61 247.90v3.2M498.64 416.50v-3.2M498.64 247.90v3.2M529.68 416.50v-3.2M529.68 247.90v3.2" stroke="#444" stroke-width="0.85" fill="none"/>
<path d="M335.70 259.94h3.2M545.20 259.94h-3.2M335.70 284.03h3.2M545.20 284.03h-3.2M335.70 308.11h3.2M545.20 308.11h-3.2M335.70 332.20h3.2M545.20 332.20h-3.2M335.70 356.29h3.2M545.20 356.29h-3.2M335.70 380.37h3.2M545.20 380.37h-3.2M335.70 404.46h3.2M545.20 404.46h-3.2" stroke="#444" stroke-width="0.85" fill="none"/>
<text x="343.46" y="429.30" font-size="11.3" text-anchor="middle" stroke="#0d0d0d" stroke-width="0.12">40</text>
<text x="374.50" y="429.30" font-size="11.3" text-anchor="middle" stroke="#0d0d0d" stroke-width="0.12">60</text>
<text x="405.53" y="429.30" font-size="11.3" text-anchor="middle" stroke="#0d0d0d" stroke-width="0.12">80</text>
<text x="436.57" y="429.30" font-size="11.3" text-anchor="middle" stroke="#0d0d0d" stroke-width="0.12">100</text>
<text x="467.61" y="429.30" font-size="11.3" text-anchor="middle" stroke="#0d0d0d" stroke-width="0.12">120</text>
<text x="498.64" y="429.30" font-size="11.3" text-anchor="middle" stroke="#0d0d0d" stroke-width="0.12">140</text>
<text x="529.68" y="429.30" font-size="11.3" text-anchor="middle" stroke="#0d0d0d" stroke-width="0.12">160</text>
<text x="332.30" y="263.84" font-size="11.3" text-anchor="end" stroke="#0d0d0d" stroke-width="0.12">0.6</text>
<text x="332.30" y="287.93" font-size="11.3" text-anchor="end" stroke="#0d0d0d" stroke-width="0.12">0.5</text>
<text x="332.30" y="312.01" font-size="11.3" text-anchor="end" stroke="#0d0d0d" stroke-width="0.12">0.4</text>
<text x="332.30" y="336.10" font-size="11.3" text-anchor="end" stroke="#0d0d0d" stroke-width="0.12">0.3</text>
<text x="332.30" y="360.19" font-size="11.3" text-anchor="end" stroke="#0d0d0d" stroke-width="0.12">0.2</text>
<text x="332.30" y="384.27" font-size="11.3" text-anchor="end" stroke="#0d0d0d" stroke-width="0.12">0.1</text>
<text x="332.30" y="408.36" font-size="11.3" text-anchor="end" stroke="#0d0d0d" stroke-width="0.12">0.0</text>
<text x="440.80" y="448.20" font-size="12.7" text-anchor="middle" stroke="#0d0d0d" stroke-width="0.12">Frequency (Hz)</text>
<text transform="translate(305.50 327.70) rotate(-90)" font-size="12.7" text-anchor="middle" stroke="#0d0d0d" stroke-width="0.12">Amplitude (V)</text>
<text x="281.60" y="243.30" font-size="18.0" text-anchor="start" font-weight="bold" stroke="#0d0d0d" stroke-width="0.22">(d)</text>
<line x1="460.00" y1="270.20" x2="487.70" y2="270.20" stroke="#0a0a0a" stroke-width="1.4"/>
<text x="491.90" y="273.60" font-size="9.4" text-anchor="start" font-weight="bold" stroke="#0d0d0d" stroke-width="0.22">Middle</text>
<text x="532.00" y="297.50" font-size="10.5" text-anchor="end" font-weight="bold" stroke="#0d0d0d" stroke-width="0.22">DC motor input: 1.08 V</text>
<text x="532.00" y="325.00" font-size="10.5" text-anchor="end" font-weight="bold" stroke="#0d0d0d" stroke-width="0.22">Area for the dielectric layer:</text>
<text x="526.10" y="338.10" font-size="10.5" text-anchor="end" font-weight="bold" stroke="#0d0d0d" stroke-width="0.22">5 cm (width) and</text>
<text x="532.00" y="351.10" font-size="10.5" text-anchor="end" font-weight="bold" stroke="#0d0d0d" stroke-width="0.22">2.5 cm (height)</text>
<text x="409.40" y="377.20" font-size="10.5" text-anchor="start" font-weight="bold" stroke="#0d0d0d" stroke-width="0.22">60.75 Hz</text>
<line x1="406.00" y1="374.80" x2="383.88" y2="376.66" stroke="#111" stroke-width="1.1"/>
<polygon points="377.40,377.20 383.63,373.77 384.12,379.55" fill="#111"/>
<polyline points="63.56,626.42 63.71,626.41 63.87,626.41 64.02,626.41 64.18,626.41 64.34,626.41 64.49,626.41 64.65,626.41 64.80,626.41 64.96,626.41 65.11,626.41 65.27,626.41 65.42,626.41 65.58,626.41 65.73,626.41 65.89,626.41 66.04,626.41 66.20,626.41 66.35,626.41 66.51,626.41 66.66,626.41 66.82,626.41 66.97,626.41 67.13,626.41 67.28,626.41 67.44,626.41 67.59,626.41 67.75,626.41 67.90,626.41 68.06,626.41 68.21,626.41 68.37,626.41 68.53,626.41 68.68,626.41 68.84,626.41 68.99,626.41 69.15,626.41 69.30,626.41 69.46,626.41 69.61,626.41 69.77,626.41 69.92,626.41 70.08,626.41 70.23,626.41 70.39,626.41 70.54,626.41 70.70,626.40 70.85,626.40 71.01,626.40 71.16,626.40 71.32,626.40 71.47,626.40 71.63,626.40 71.78,626.40 71.94,626.40 72.09,626.40 72.25,626.40 72.40,626.40 72.56,626.40 72.72,626.40 72.87,626.40 73.03,626.40 73.18,626.40 73.34,626.40 73.49,626.40 73.65,626.40 73.80,626.40 73.96,626.40 74.11,626.40 74.27,626.40 74.42,626.39 74.58,626.39 74.73,626.39 74.89,626.39 75.04,626.39 75.20,626.39 75.35,626.39 75.51,626.39 75.66,626.39 75.82,626.39 75.97,626.39 76.13,626.39 76.28,626.39 76.44,626.39 76.59,626.39 76.75,626.39 76.91,626.38 77.06,626.38 77.22,626.38 77.37,626.38 77.53,626.38 77.68,626.38 77.84,626.38 77.99,626.38 78.15,626.38 78.30,626.38 78.46,626.38 78.61,626.37 78.77,626.37 78.92,626.37 79.08,626.37 79.23,626.37 79.39,626.37 79.54,626.37 79.70,626.37 79.85,626.37 80.01,626.36 80.16,626.36 80.32,626.36 80.47,626.36 80.63,626.36 80.78,626.36 80.94,626.35 81.10,626.35 81.25,626.35 81.41,626.35 81.56,626.35 81.72,626.35 81.87,626.34 82.03,626.34 82.18,626.34 82.34,626.34 82.49,626.33 82.65,626.33 82.80,626.33 82.96,626.33 83.11,626.32 83.27,626.32 83.42,626.32 83.58,626.32 83.73,626.31 83.89,626.31 84.04,626.31 84.20,626.30 84.35,626.30 84.51,626.29 84.66,626.29 84.82,626.29 84.97,626.28 85.13,626.28 85.29,626.27 85.44,626.27 85.60,626.26 85.75,626.25 85.91,626.25 86.06,626.24 86.22,626.24 86.37,626.23 86.53,626.22 86.68,626.21 86.84,626.20 86.99,626.20 87.15,626.19 87.30,626.18 87.46,626.17 87.61,626.15 87.77,626.14 87.92,626.13 88.08,626.12 88.23,626.10 88.39,626.08 88.54,626.07 88.70,626.05 88.85,626.03 89.01,626.01 89.16,625.99 89.32,625.96 89.48,625.94 89.63,625.91 89.79,625.88 89.94,625.84 90.10,625.80 90.25,625.76 90.41,625.72 90.56,625.67 90.72,625.61 90.87,625.55 91.03,625.48 91.18,625.41 91.34,625.32 91.49,625.23 91.65,625.12 91.80,625.00 91.96,624.86 92.11,624.71 92.27,624.53 92.42,624.32 92.58,624.08 92.73,623.80 92.89,623.48 93.04,623.09 93.20,622.62 93.35,622.04 93.39,621.91 93.42,621.77 93.45,621.62 93.48,621.47 93.51,621.31 93.54,621.14 93.57,620.95 93.60,620.76 93.63,620.55 93.67,620.33 93.70,620.09 93.73,619.84 93.76,619.56 93.79,619.26 93.82,618.93 93.85,618.56 93.88,618.16 93.91,617.72 93.94,617.22 93.98,616.66 94.01,616.03 94.04,615.31 94.07,614.47 94.10,613.50 94.13,612.36 94.16,611.00 94.19,609.37 94.22,607.40 94.25,604.96 94.29,601.92 94.32,598.08 94.35,593.14 94.38,586.72 94.41,578.28 94.44,567.17 94.47,552.76 94.50,534.92 94.53,515.26 94.57,498.52 94.60,491.70 94.63,498.52 94.66,515.26 94.69,534.92 94.72,552.76 94.75,567.17 94.78,578.28 94.81,586.72 94.84,593.14 94.88,598.08 94.91,601.92 94.94,604.96 94.97,607.40 95.00,609.37 95.03,611.00 95.06,612.36 95.09,613.50 95.12,614.47 95.15,615.30 95.19,616.03 95.22,616.66 95.25,617.22 95.28,617.72 95.31,618.16 95.34,618.56 95.37,618.93 95.40,619.26 95.43,619.56 95.47,619.84 95.50,620.09 95.53,620.33 95.56,620.55 95.59,620.76 95.62,620.95 95.65,621.13 95.68,621.31 95.71,621.47 95.74,621.62 95.78,621.77 95.81,621.91 95.84,622.04 95.99,622.62 96.15,623.09 96.30,623.47 96.46,623.80 96.61,624.08 96.77,624.32 96.92,624.53 97.08,624.71 97.23,624.86 97.39,625.00 97.54,625.12 97.70,625.23 97.86,625.32 98.01,625.40 98.17,625.48 98.32,625.55 98.48,625.61 98.63,625.66 98.79,625.71 98.94,625.76 99.10,625.80 99.25,625.84 99.41,625.87 99.56,625.90 99.72,625.93 99.87,625.96 100.03,625.98 100.18,626.00 100.34,626.02 100.49,626.04 100.65,626.06 100.80,626.08 100.96,626.09 101.11,626.11 101.27,626.12 101.42,626.13 101.58,626.15 101.73,626.16 101.89,626.17 102.05,626.18 102.20,626.19 102.36,626.19 102.51,626.20 102.67,626.21 102.82,626.22 102.98,626.22 103.13,626.23 103.29,626.24 103.44,626.24 103.60,626.25 103.75,626.25 103.91,626.26 104.06,626.26 104.22,626.27 104.37,626.27 104.53,626.28 104.68,626.28 104.84,626.28 104.99,626.29 105.15,626.29 105.30,626.29 105.46,626.30 105.61,626.30 105.77,626.30 105.92,626.30 106.08,626.31 106.24,626.31 106.39,626.31 106.55,626.31 106.70,626.31 106.86,626.32 107.01,626.32 107.17,626.32 107.32,626.32 107.48,626.32 107.63,626.32 107.79,626.32 107.94,626.32 108.10,626.33 108.25,626.33 108.41,626.33 108.56,626.33 108.72,626.33 108.87,626.33 109.03,626.33 109.18,626.33 109.34,626.33 109.49,626.33 109.65,626.33 109.80,626.33 109.96,626.33 110.11,626.33 110.27,626.33 110.43,626.33 110.58,626.33 110.74,626.33 110.89,626.33 111.05,626.33 111.20,626.33 111.36,626.33 111.51,626.33 111.67,626.32 111.82,626.32 111.98,626.32 112.13,626.32 112.29,626.32 112.44,626.32 112.60,626.31 112.75,626.31 112.91,626.31 113.06,626.31 113.22,626.30 113.37,626.30 113.53,626.30 113.68,626.29 113.84,626.29 113.99,626.28 114.15,626.28 114.30,626.27 114.46,626.27 114.62,626.26 114.77,626.25 114.93,626.25 115.08,626.24 115.24,626.23 115.39,626.22 115.55,626.21 115.70,626.20 115.86,626.18 116.01,626.17 116.17,626.15 116.32,626.13 116.48,626.11 116.63,626.09 116.79,626.06 116.94,626.03 117.10,626.00 117.25,625.96 117.41,625.92 117.56,625.87 117.72,625.81 117.87,625.74 118.03,625.66 118.18,625.56 118.34,625.44 118.49,625.30 118.65,625.13 118.81,624.92 118.96,624.64 118.99,624.57 119.02,624.51 119.05,624.43 119.08,624.36 119.12,624.27 119.15,624.19 119.18,624.09 119.21,623.99 119.24,623.89 119.27,623.77 119.30,623.65 119.33,623.52 119.36,623.37 119.39,623.22 119.43,623.05 119.46,622.86 119.49,622.66 119.52,622.44 119.55,622.20 119.58,621.93 119.61,621.64 119.64,621.31 119.67,620.94 119.71,620.53 119.74,620.08 119.77,619.57 119.80,619.00 119.83,618.36 119.86,617.64 119.89,616.85 119.92,615.98 119.95,615.04 119.98,614.02 120.02,612.96 120.05,611.90 120.08,610.87 120.11,609.96 120.14,609.24 120.17,608.77 120.20,608.61 120.23,608.77 120.26,609.24 120.29,609.96 120.33,610.88 120.36,611.90 120.39,612.96 120.42,614.02 120.45,615.04 120.48,615.98 120.51,616.86 120.54,617.65 120.57,618.36 120.61,619.00 120.64,619.57 120.67,620.08 120.70,620.53 120.73,620.94 120.76,621.31 120.79,621.64 120.82,621.93 120.85,622.20 120.88,622.44 120.92,622.67 120.95,622.87 120.98,623.05 121.01,623.22 121.04,623.38 121.07,623.52 121.10,623.65 121.13,623.78 121.16,623.89 121.20,624.00 121.23,624.10 121.26,624.19 121.29,624.28 121.32,624.36 121.35,624.44 121.38,624.51 121.41,624.58 121.44,624.64 121.60,624.92 121.75,625.14 121.91,625.31 122.06,625.45 122.22,625.57 122.37,625.66 122.53,625.75 122.68,625.81 122.84,625.87 123.00,625.93 123.15,625.97 123.31,626.01 123.46,626.04 123.62,626.07 123.77,626.10 123.93,626.12 124.08,626.15 124.24,626.16 124.39,626.18 124.55,626.20 124.70,626.21 124.86,626.22 125.01,626.24 125.17,626.25 125.32,626.26 125.48,626.27 125.63,626.27 125.79,626.28 125.94,626.29 126.10,626.30 126.25,626.30 126.41,626.31 126.56,626.31 126.72,626.32 126.87,626.32 127.03,626.33 127.19,626.33 127.34,626.33 127.50,626.34 127.65,626.34 127.81,626.34 127.96,626.35 128.12,626.35 128.27,626.35 128.43,626.36 128.58,626.36 128.74,626.36 128.89,626.36 129.05,626.36 129.20,626.37 129.36,626.37 129.51,626.37 129.67,626.37 129.82,626.37 129.98,626.37 130.13,626.38 130.29,626.38 130.44,626.38 130.60,626.38 130.75,626.38 130.91,626.38 131.06,626.38 131.22,626.38 131.38,626.39 131.53,626.39 131.69,626.39 131.84,626.39 132.00,626.39 132.15,626.39 132.31,626.39 132.46,626.39 132.62,626.39 132.77,626.39 132.93,626.39 133.08,626.40 133.24,626.40 133.39,626.40 133.55,626.40 133.70,626.40 133.86,626.40 134.01,626.40 134.17,626.40 134.32,626.40 134.48,626.40 134.63,626.40 134.79,626.40 134.94,626.40 135.10,626.40 135.25,626.40 135.41,626.40 135.57,626.40 135.72,626.40 135.88,626.40 136.03,626.41 136.19,626.41 136.34,626.41 136.50,626.41 136.65,626.41 136.81,626.41 136.96,626.41 137.12,626.41 137.27,626.41 137.43,626.41 137.58,626.41 137.74,626.41 137.89,626.41 138.05,626.41 138.20,626.41 138.36,626.41 138.51,626.41 138.67,626.41 138.82,626.41 138.98,626.41 139.13,626.41 139.29,626.41 139.44,626.41 139.60,626.41 139.76,626.41 139.91,626.41 140.07,626.41 140.22,626.41 140.38,626.41 140.53,626.41 140.69,626.41 140.84,626.41 141.00,626.41 141.15,626.41 141.31,626.41 141.46,626.41 141.62,626.42 141.77,626.42 141.93,626.42 142.08,626.42 142.24,626.42 142.39,626.42 142.55,626.42 142.70,626.42 142.86,626.42 143.01,626.42 143.17,626.42 143.32,626.42 143.48,626.42 143.63,626.42 143.79,626.42 143.95,626.42 144.10,626.42 144.26,626.42 144.41,626.42 144.57,626.42 144.72,626.42 144.88,626.42 145.03,626.42 145.19,626.42 145.34,626.42 145.50,626.42 145.65,626.42 145.81,626.42 145.96,626.42 146.12,626.42 146.27,626.42 146.43,626.42 146.58,626.42 146.74,626.42 146.89,626.42 147.05,626.42 147.20,626.42 147.36,626.42 147.51,626.42 147.67,626.42 147.82,626.42 147.98,626.42 148.14,626.42 148.29,626.42 148.45,626.42 148.60,626.42 148.76,626.42 148.91,626.42 149.07,626.42 149.22,626.42 149.38,626.42 149.53,626.42 149.69,626.42 149.84,626.42 150.00,626.42 150.15,626.42 150.31,626.42 150.46,626.42 150.62,626.42 150.77,626.42 150.93,626.42 151.08,626.42 151.24,626.42 151.39,626.42 151.55,626.42 151.70,626.42 151.86,626.42 152.01,626.42 152.17,626.42 152.33,626.42 152.48,626.42 152.64,626.42 152.79,626.42 152.95,626.42 153.10,626.42 153.26,626.42 153.41,626.42 153.57,626.42 153.72,626.42 153.88,626.42 154.03,626.42 154.19,626.42 154.34,626.42 154.50,626.42 154.65,626.42 154.81,626.42 154.96,626.42 155.12,626.42 155.27,626.42 155.43,626.42 155.58,626.42 155.74,626.42 155.89,626.42 156.05,626.42 156.20,626.42 156.36,626.42 156.52,626.42 156.67,626.42 156.83,626.42 156.98,626.42 157.14,626.42 157.29,626.42 157.45,626.42 157.60,626.42 157.76,626.42 157.91,626.42 158.07,626.42 158.22,626.42 158.38,626.42 158.53,626.42 158.69,626.42 158.84,626.42 159.00,626.42 159.15,626.42 159.31,626.42 159.46,626.42 159.62,626.42 159.77,626.42 159.93,626.42 160.08,626.42 160.24,626.42 160.39,626.42 160.55,626.42 160.71,626.42 160.86,626.42 161.02,626.43 161.17,626.43 161.33,626.43 161.48,626.43 161.64,626.43 161.79,626.43 161.95,626.43 162.10,626.43 162.26,626.43 162.41,626.43 162.57,626.43 162.72,626.43 162.88,626.43 163.03,626.43 163.19,626.43 163.34,626.43 163.50,626.43 163.65,626.43 163.81,626.43 163.96,626.43 164.12,626.43 164.27,626.43 164.43,626.43 164.58,626.43 164.74,626.43 164.90,626.43 165.05,626.43 165.21,626.43 165.36,626.43 165.52,626.43 165.67,626.43 165.83,626.43 165.98,626.43 166.14,626.43 166.29,626.43 166.45,626.43 166.60,626.43 166.76,626.43 166.91,626.43 167.07,626.43 167.22,626.43 167.38,626.43 167.53,626.43 167.69,626.43 167.84,626.43 168.00,626.43 168.15,626.43 168.31,626.43 168.46,626.43 168.62,626.43 168.77,626.43 168.93,626.43 169.09,626.43 169.24,626.43 169.40,626.43 169.55,626.43 169.71,626.43 169.86,626.43 170.02,626.43 170.17,626.43 170.33,626.43 170.48,626.43 170.64,626.43 170.79,626.43 170.95,626.43 171.10,626.43 171.26,626.43 171.41,626.43 171.57,626.43 171.72,626.43 171.88,626.43 172.03,626.43 172.19,626.43 172.34,626.43 172.50,626.43 172.65,626.43 172.81,626.43 172.96,626.43 173.12,626.43 173.28,626.43 173.43,626.43 173.59,626.43 173.74,626.43 173.90,626.43 174.05,626.43 174.21,626.43 174.36,626.43 174.52,626.43 174.67,626.43 174.83,626.43 174.98,626.43 175.14,626.43 175.29,626.43 175.45,626.43 175.60,626.43 175.76,626.43 175.91,626.43 176.07,626.43 176.22,626.43 176.38,626.43 176.53,626.43 176.69,626.43 176.84,626.43 177.00,626.43 177.15,626.43 177.31,626.43 177.47,626.43 177.62,626.43 177.78,626.43 177.93,626.43 178.09,626.43 178.24,626.43 178.40,626.43 178.55,626.43 178.71,626.43 178.86,626.43 179.02,626.43 179.17,626.43 179.33,626.43 179.48,626.43 179.64,626.43 179.79,626.43 179.95,626.43 180.10,626.43 180.26,626.43 180.41,626.43 180.57,626.43 180.72,626.43 180.88,626.43 181.03,626.43 181.19,626.43 181.34,626.43 181.50,626.43 181.66,626.43 181.81,626.43 181.97,626.43 182.12,626.43 182.28,626.43 182.43,626.43 182.59,626.43 182.74,626.43 182.90,626.43 183.05,626.43 183.21,626.43 183.36,626.43 183.52,626.43 183.67,626.43 183.83,626.43 183.98,626.43 184.14,626.43 184.29,626.43 184.45,626.43 184.60,626.43 184.76,626.43 184.91,626.43 185.07,626.43 185.22,626.43 185.38,626.43 185.53,626.43 185.69,626.43 185.85,626.43 186.00,626.43 186.16,626.43 186.31,626.43 186.47,626.43 186.62,626.43 186.78,626.43 186.93,626.43 187.09,626.43 187.24,626.43 187.40,626.43 187.55,626.43 187.71,626.43 187.86,626.43 188.02,626.43 188.17,626.43 188.33,626.43 188.48,626.43 188.64,626.43 188.79,626.43 188.95,626.43 189.10,626.43 189.26,626.43 189.41,626.43 189.57,626.43 189.72,626.43 189.88,626.43 190.04,626.43 190.19,626.43 190.35,626.43 190.50,626.43 190.66,626.43 190.81,626.43 190.97,626.43 191.12,626.43 191.28,626.43 191.43,626.43 191.59,626.43 191.74,626.43 191.90,626.43 192.05,626.43 192.21,626.43 192.36,626.43 192.52,626.43 192.67,626.43 192.83,626.43 192.98,626.43 193.14,626.43 193.29,626.43 193.45,626.43 193.60,626.43 193.76,626.43 193.91,626.43 194.07,626.43 194.23,626.43 194.38,626.43 194.54,626.43 194.69,626.43 194.85,626.43 195.00,626.43 195.16,626.43 195.31,626.43 195.47,626.43 195.62,626.43 195.78,626.43 195.93,626.43 196.09,626.43 196.24,626.43 196.40,626.43 196.55,626.43 196.71,626.43 196.86,626.43 197.02,626.43 197.17,626.43 197.33,626.43 197.48,626.43 197.64,626.43 197.79,626.43 197.95,626.43 198.10,626.43 198.26,626.43 198.42,626.43 198.57,626.43 198.73,626.43 198.88,626.43 199.04,626.43 199.19,626.43 199.35,626.43 199.50,626.43 199.66,626.43 199.81,626.43 199.97,626.43 200.12,626.43 200.28,626.43 200.43,626.43 200.59,626.43 200.74,626.43 200.90,626.43 201.05,626.43 201.21,626.43 201.36,626.43 201.52,626.43 201.67,626.43 201.83,626.43 201.98,626.43 202.14,626.43 202.29,626.43 202.45,626.43 202.61,626.43 202.76,626.43 202.92,626.43 203.07,626.43 203.23,626.43 203.38,626.43 203.54,626.43 203.69,626.43 203.85,626.43 204.00,626.43 204.16,626.43 204.31,626.43 204.47,626.43 204.62,626.43 204.78,626.43 204.93,626.43 205.09,626.43 205.24,626.43 205.40,626.43 205.55,626.43 205.71,626.43 205.86,626.43 206.02,626.43 206.17,626.43 206.33,626.43 206.48,626.43 206.64,626.43 206.80,626.43 206.95,626.43 207.11,626.43 207.26,626.43 207.42,626.43 207.57,626.43 207.73,626.43 207.88,626.43 208.04,626.43 208.19,626.43 208.35,626.43 208.50,626.43 208.66,626.43 208.81,626.43 208.97,626.43 209.12,626.43 209.28,626.43 209.43,626.43 209.59,626.43 209.74,626.43 209.90,626.43 210.05,626.43 210.21,626.43 210.36,626.43 210.52,626.43 210.67,626.43 210.83,626.43 210.99,626.43 211.14,626.43 211.30,626.43 211.45,626.43 211.61,626.43 211.76,626.43 211.92,626.43 212.07,626.43 212.23,626.43 212.38,626.43 212.54,626.43 212.69,626.43 212.85,626.43 213.00,626.43 213.16,626.43 213.31,626.43 213.47,626.43 213.62,626.43 213.78,626.43 213.93,626.43 214.09,626.43 214.24,626.43 214.40,626.43 214.55,626.43 214.71,626.43 214.86,626.43 215.02,626.43 215.18,626.43 215.33,626.43 215.49,626.43 215.64,626.43 215.80,626.43 215.95,626.43 216.11,626.43 216.26,626.43 216.42,626.43 216.57,626.43 216.73,626.43 216.88,626.43 217.04,626.43 217.19,626.43 217.35,626.43 217.50,626.43 217.66,626.43 217.81,626.43 217.97,626.43 218.12,626.43 218.28,626.43 218.43,626.43 218.59,626.43 218.74,626.43 218.90,626.43 219.05,626.43 219.21,626.43 219.37,626.43 219.52,626.43 219.68,626.43 219.83,626.43 219.99,626.43 220.14,626.43 220.30,626.43 220.45,626.43 220.61,626.43 220.76,626.43 220.92,626.43 221.07,626.43 221.23,626.43 221.38,626.43 221.54,626.43 221.69,626.43 221.85,626.43 222.00,626.43 222.16,626.43 222.31,626.43 222.47,626.43 222.62,626.43 222.78,626.43 222.93,626.43 223.09,626.43 223.24,626.43 223.40,626.43 223.56,626.43 223.71,626.43 223.87,626.43 224.02,626.43 224.18,626.43 224.33,626.43 224.49,626.43 224.64,626.43 224.80,626.43 224.95,626.43 225.11,626.43 225.26,626.43 225.42,626.43 225.57,626.43 225.73,626.43 225.88,626.43 226.04,626.43 226.19,626.43 226.35,626.43 226.50,626.43 226.66,626.43 226.81,626.43 226.97,626.43 227.12,626.43 227.28,626.43 227.43,626.43 227.59,626.43 227.75,626.43 227.90,626.43 228.06,626.43 228.21,626.43 228.37,626.43 228.52,626.43 228.68,626.43 228.83,626.43 228.99,626.43 229.14,626.43 229.30,626.43 229.45,626.43 229.61,626.43 229.76,626.42 229.92,626.42 230.07,626.42 230.23,626.42 230.38,626.42 230.54,626.42 230.69,626.42 230.85,626.42 231.00,626.42 231.16,626.42 231.31,626.42 231.47,626.42 231.62,626.42 231.78,626.42 231.94,626.42 232.09,626.42 232.25,626.42 232.40,626.42 232.56,626.42 232.71,626.42 232.87,626.42 233.02,626.42 233.18,626.42 233.33,626.42 233.49,626.42 233.64,626.42 233.80,626.41 233.95,626.41 234.11,626.41 234.26,626.41 234.42,626.41 234.57,626.41 234.73,626.41 234.88,626.40 235.04,626.40 235.19,626.40 235.35,626.40 235.50,626.40 235.66,626.39 235.81,626.39 235.97,626.38 236.13,626.38 236.28,626.37 236.44,626.37 236.59,626.36 236.75,626.35 236.90,626.33 237.06,626.32 237.21,626.30 237.37,626.27 237.52,626.24 237.68,626.19 237.71,626.18 237.74,626.17 237.77,626.16 237.80,626.15 237.83,626.13 237.86,626.12 237.89,626.10 237.93,626.08 237.96,626.06 237.99,626.04 238.02,626.02 238.05,626.00 238.08,625.97 238.11,625.94 238.14,625.91 238.17,625.88 238.20,625.84 238.24,625.81 238.27,625.76 238.30,625.72 238.33,625.67 238.36,625.61 238.39,625.55 238.42,625.49 238.45,625.42 238.48,625.35 238.52,625.27 238.55,625.18 238.58,625.09 238.61,625.00 238.64,624.90 238.67,624.80 238.70,624.70 238.73,624.60 238.76,624.51 238.79,624.43 238.83,624.36 238.86,624.31 238.89,624.28 238.92,624.26 238.95,624.28 238.98,624.31 239.01,624.36 239.04,624.43 239.07,624.51 239.10,624.60 239.14,624.70 239.17,624.80 239.20,624.90 239.23,625.00 239.26,625.09 239.29,625.18 239.32,625.27 239.35,625.35 239.38,625.42 239.42,625.49 239.45,625.55 239.48,625.61 239.51,625.67 239.54,625.72 239.57,625.76 239.60,625.81 239.63,625.84 239.66,625.88 239.69,625.91 239.73,625.94 239.76,625.97 239.79,626.00 239.82,626.02 239.85,626.04 239.88,626.06 239.91,626.08 239.94,626.10 239.97,626.12 240.00,626.13 240.04,626.15 240.07,626.16 240.10,626.17 240.13,626.18 240.16,626.19 240.32,626.24 240.47,626.27 240.63,626.30 240.78,626.32 240.94,626.33 241.09,626.35 241.25,626.36 241.40,626.37 241.56,626.37 241.71,626.38 241.87,626.38 242.02,626.39 242.18,626.39 242.33,626.40 242.49,626.40 242.64,626.40 242.80,626.40 242.95,626.41 243.11,626.41 243.26,626.41 243.42,626.41 243.57,626.41 243.73,626.41 243.88,626.41 244.04,626.41 244.19,626.42 244.35,626.42 244.51,626.42 244.66,626.42 244.82,626.42 244.97,626.42 245.13,626.42 245.28,626.42 245.44,626.42 245.59,626.42 245.75,626.42 245.90,626.42 246.06,626.42 246.21,626.42 246.37,626.42 246.52,626.42 246.68,626.42 246.83,626.42 246.99,626.42 247.14,626.42 247.30,626.42 247.45,626.42 247.61,626.42 247.76,626.42 247.92,626.42 248.07,626.43 248.23,626.43 248.38,626.43 248.54,626.43 248.70,626.43 248.85,626.43 249.01,626.43 249.16,626.43 249.32,626.43 249.47,626.43 249.63,626.43 249.78,626.43 249.94,626.43 250.09,626.43 250.25,626.43 250.40,626.43 250.56,626.43 250.71,626.43 250.87,626.43 251.02,626.43 251.18,626.43 251.33,626.43 251.49,626.43 251.64,626.43 251.80,626.43 251.95,626.43 252.11,626.43 252.26,626.43 252.42,626.43 252.57,626.43 252.73,626.43 252.89,626.43 253.04,626.43 253.20,626.43 253.35,626.43 253.51,626.43 253.66,626.43 253.82,626.43 253.97,626.43 254.13,626.43 254.28,626.43 254.44,626.43 254.59,626.43 254.75,626.43 254.90,626.43 255.06,626.43 255.21,626.43 255.37,626.43 255.52,626.43 255.68,626.43 255.83,626.43 255.99,626.43 256.14,626.43 256.30,626.43 256.45,626.43 256.61,626.43 256.76,626.43 256.92,626.43 257.08,626.43 257.23,626.43 257.39,626.43 257.54,626.43" fill="none" stroke="#000" stroke-width="1.05" stroke-linejoin="miter"/>
<rect x="55.80" y="470.30" width="209.50" height="168.40" fill="none" stroke="#333" stroke-width="0.9"/>
<path d="M63.56 638.70v-3.2M63.56 470.30v3.2M94.60 638.70v-3.2M94.60 470.30v3.2M125.63 638.70v-3.2M125.63 470.30v3.2M156.67 638.70v-3.2M156.67 470.30v3.2M187.71 638.70v-3.2M187.71 470.30v3.2M218.74 638.70v-3.2M218.74 470.30v3.2M249.78 638.70v-3.2M249.78 470.30v3.2" stroke="#444" stroke-width="0.85" fill="none"/>
<path d="M55.80 482.33h3.2M265.30 482.33h-3.2M55.80 506.39h3.2M265.30 506.39h-3.2M55.80 530.44h3.2M265.30 530.44h-3.2M55.80 554.50h3.2M265.30 554.50h-3.2M55.80 578.56h3.2M265.30 578.56h-3.2M55.80 602.61h3.2M265.30 602.61h-3.2M55.80 626.67h3.2M265.30 626.67h-3.2" stroke="#444" stroke-width="0.85" fill="none"/>
<text x="63.56" y="650.70" font-size="11.3" text-anchor="middle" stroke="#0d0d0d" stroke-width="0.12">40</text>
<text x="94.60" y="650.70" font-size="11.3" text-anchor="middle" stroke="#0d0d0d" stroke-width="0.12">60</text>
<text x="125.63" y="650.70" font-size="11.3" text-anchor="middle" stroke="#0d0d0d" stroke-width="0.12">80</text>
<text x="156.67" y="650.70" font-size="11.3" text-anchor="middle" stroke="#0d0d0d" stroke-width="0.12">100</text>
<text x="187.71" y="650.70" font-size="11.3" text-anchor="middle" stroke="#0d0d0d" stroke-width="0.12">120</text>
<text x="218.74" y="650.70" font-size="11.3" text-anchor="middle" stroke="#0d0d0d" stroke-width="0.12">140</text>
<text x="249.78" y="650.70" font-size="11.3" text-anchor="middle" stroke="#0d0d0d" stroke-width="0.12">160</text>
<text x="52.40" y="486.23" font-size="11.3" text-anchor="end" stroke="#0d0d0d" stroke-width="0.12">0.6</text>
<text x="52.40" y="510.29" font-size="11.3" text-anchor="end" stroke="#0d0d0d" stroke-width="0.12">0.5</text>
<text x="52.40" y="534.34" font-size="11.3" text-anchor="end" stroke="#0d0d0d" stroke-width="0.12">0.4</text>
<text x="52.40" y="558.40" font-size="11.3" text-anchor="end" stroke="#0d0d0d" stroke-width="0.12">0.3</text>
<text x="52.40" y="582.46" font-size="11.3" text-anchor="end" stroke="#0d0d0d" stroke-width="0.12">0.2</text>
<text x="52.40" y="606.51" font-size="11.3" text-anchor="end" stroke="#0d0d0d" stroke-width="0.12">0.1</text>
<text x="52.40" y="630.57" font-size="11.3" text-anchor="end" stroke="#0d0d0d" stroke-width="0.12">0.0</text>
<text x="160.90" y="669.40" font-size="12.7" text-anchor="middle" stroke="#0d0d0d" stroke-width="0.12">Frequency (Hz)</text>
<text transform="translate(25.60 550.10) rotate(-90)" font-size="12.7" text-anchor="middle" stroke="#0d0d0d" stroke-width="0.12">Amplitude (V)</text>
<text x="3.10" y="466.10" font-size="18.0" text-anchor="start" font-weight="bold" stroke="#0d0d0d" stroke-width="0.22">(e)</text>
<line x1="192.60" y1="492.60" x2="220.30" y2="492.60" stroke="#0a0a0a" stroke-width="1.4"/>
<text x="224.50" y="496.00" font-size="9.4" text-anchor="start" font-weight="bold" stroke="#0d0d0d" stroke-width="0.22">High</text>
<text x="247.00" y="533.90" font-size="10.5" text-anchor="end" font-weight="bold" stroke="#0d0d0d" stroke-width="0.22">DC motor input: 1.46 V</text>
<text x="242.30" y="566.30" font-size="10.5" text-anchor="end" font-weight="bold" stroke="#0d0d0d" stroke-width="0.22">5 cm (width) and</text>
<text x="245.20" y="579.50" font-size="10.5" text-anchor="end" font-weight="bold" stroke="#0d0d0d" stroke-width="0.22">2.5 cm (height)</text>
<text x="104.70" y="598.20" font-size="10.5" text-anchor="start" font-weight="bold" stroke="#0d0d0d" stroke-width="0.22">76.5 Hz</text>
<rect x="370.15" y="531.28" width="18.05" height="107.32" fill="#0000fa"/>
<rect x="353.30" y="534.25" width="17.45" height="104.35" fill="#000"/>
<path d="M362.02 533.66V534.85M360.02 533.66h4M360.02 534.85h4" stroke="#000" stroke-width="0.7" fill="none"/>
<path d="M379.48 530.49V532.08M377.48 530.49h4M377.48 532.08h4" stroke="#000" stroke-width="0.7" fill="none"/>
<text x="370.75" y="650.50" font-size="11.3" text-anchor="middle" stroke="#0d0d0d" stroke-width="0.12">Low</text>
<rect x="440.05" y="513.66" width="18.05" height="124.94" fill="#0000fa"/>
<rect x="423.20" y="517.23" width="17.45" height="121.37" fill="#000"/>
<path d="M431.92 516.83V517.62M429.92 516.83h4M429.92 517.62h4" stroke="#000" stroke-width="0.7" fill="none"/>
<path d="M449.38 512.87V514.45M447.38 512.87h4M447.38 514.45h4" stroke="#000" stroke-width="0.7" fill="none"/>
<text x="440.65" y="650.50" font-size="11.3" text-anchor="middle" stroke="#0d0d0d" stroke-width="0.12">Middle</text>
<rect x="509.95" y="485.25" width="18.05" height="153.35" fill="#0000fa"/>
<rect x="493.10" y="487.03" width="17.45" height="151.57" fill="#000"/>
<path d="M501.82 486.63V487.43M499.82 486.63h4M499.82 487.43h4" stroke="#000" stroke-width="0.7" fill="none"/>
<path d="M519.27 484.56V485.94M517.27 484.56h4M517.27 485.94h4" stroke="#000" stroke-width="0.7" fill="none"/>
<text x="510.55" y="650.50" font-size="11.3" text-anchor="middle" stroke="#0d0d0d" stroke-width="0.12">High</text>
<rect x="335.70" y="470.30" width="209.70" height="168.30" fill="none" stroke="#333" stroke-width="0.9"/>
<path d="M335.70 480.20h3.2M545.40 480.20h-3.2M335.70 500.00h3.2M545.40 500.00h-3.2M335.70 519.80h3.2M545.40 519.80h-3.2M335.70 539.60h3.2M545.40 539.60h-3.2M335.70 559.40h3.2M545.40 559.40h-3.2M335.70 579.20h3.2M545.40 579.20h-3.2M335.70 599.00h3.2M545.40 599.00h-3.2M335.70 618.80h3.2M545.40 618.80h-3.2" stroke="#444" stroke-width="0.85" fill="none"/>
<text x="332.10" y="483.40" font-size="11.3" text-anchor="end" stroke="#0d0d0d" stroke-width="0.12">80</text>
<text x="332.10" y="503.20" font-size="11.3" text-anchor="end" stroke="#0d0d0d" stroke-width="0.12">70</text>
<text x="332.10" y="523.00" font-size="11.3" text-anchor="end" stroke="#0d0d0d" stroke-width="0.12">60</text>
<text x="332.10" y="542.80" font-size="11.3" text-anchor="end" stroke="#0d0d0d" stroke-width="0.12">50</text>
<text x="332.10" y="562.60" font-size="11.3" text-anchor="end" stroke="#0d0d0d" stroke-width="0.12">40</text>
<text x="332.10" y="582.40" font-size="11.3" text-anchor="end" stroke="#0d0d0d" stroke-width="0.12">30</text>
<text x="332.10" y="602.20" font-size="11.3" text-anchor="end" stroke="#0d0d0d" stroke-width="0.12">20</text>
<text x="332.10" y="622.00" font-size="11.3" text-anchor="end" stroke="#0d0d0d" stroke-width="0.12">10</text>
<text x="332.10" y="641.80" font-size="11.3" text-anchor="end" stroke="#0d0d0d" stroke-width="0.12">0</text>
<text x="440.40" y="669.30" font-size="12.7" text-anchor="middle" stroke="#0d0d0d" stroke-width="0.12">Motor Speed</text>
<text transform="translate(303.90 554.30) rotate(-90)" font-size="12.7" text-anchor="middle" stroke="#0d0d0d" stroke-width="0.12">Peak Frequency (Hz)</text>
<text x="281.60" y="466.30" font-size="18.0" text-anchor="start" font-weight="bold" stroke="#0d0d0d" stroke-width="0.22">(f)</text>
<rect x="346.3" y="479.2" width="19.2" height="9.5" fill="#000"/>
<rect x="346.3" y="494.0" width="19.2" height="9.5" fill="#0000fa"/>
<text x="368.40" y="487.40" font-size="9.2" text-anchor="start" font-weight="bold" stroke="#0d0d0d" stroke-width="0.22">Output voltage</text>
<text x="368.40" y="502.10" font-size="9.2" text-anchor="start" font-weight="bold" stroke="#0d0d0d" stroke-width="0.22">Output current</text>
</svg>
</body></html>
